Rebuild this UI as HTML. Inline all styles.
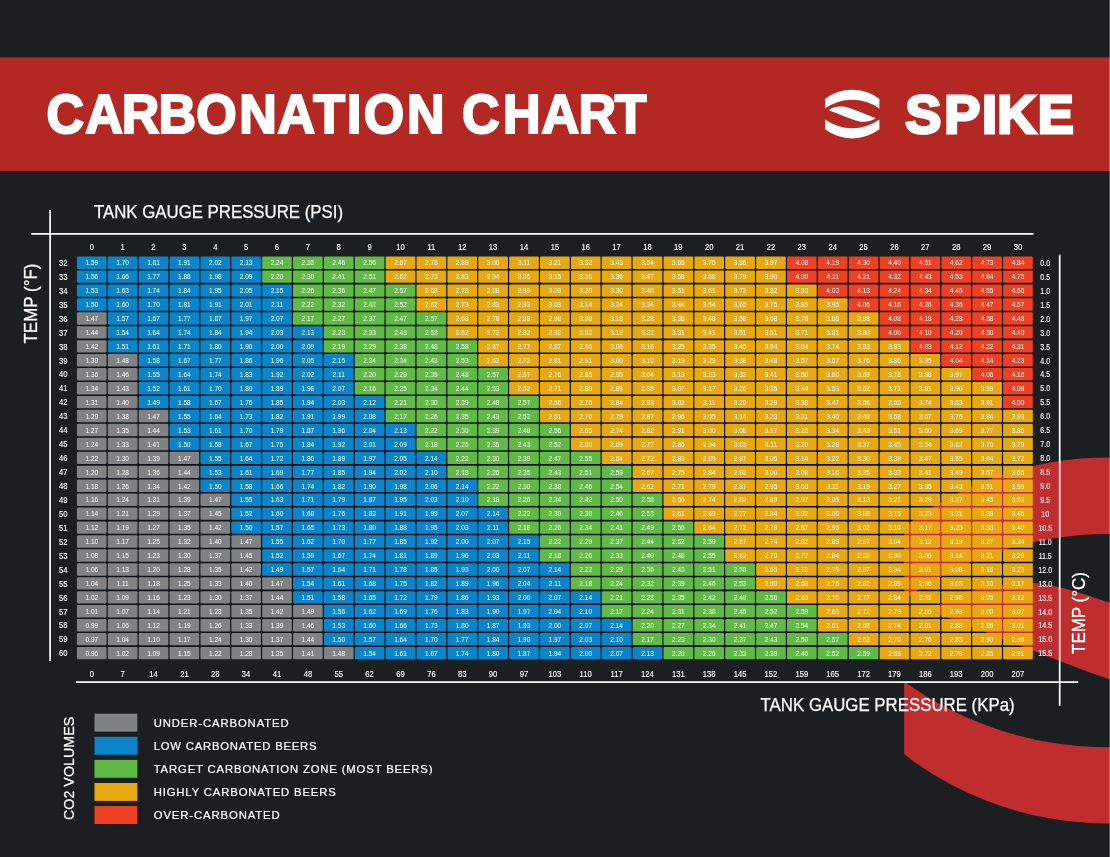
<!DOCTYPE html>
<html lang="en"><head><meta charset="utf-8"><title>Carbonation Chart</title>
<style>
html,body{margin:0;padding:0;background:#1c1f22;}
body{width:1110px;height:857px;overflow:hidden;position:relative;font-family:"Liberation Sans",sans-serif;}
svg{position:absolute;left:0;top:0;display:block}
text{font-family:"Liberation Sans",sans-serif;fill:#fff}
.c{font-size:7.6px;text-anchor:middle}
.h{font-size:8.8px;text-anchor:middle;stroke:#fff;stroke-width:.12px}
.ax{font-size:19px;stroke:#fff;stroke-width:.25px}
.lg{font-size:11.3px;stroke:#fff;stroke-width:.2px}
</style></head><body>
<svg width="1110" height="857" viewBox="0 0 1110 857">
<rect width="1110" height="857" fill="#1c1f22"/>

<rect x="77.2" y="256.8" width="955.31" height="402.20" fill="#0d1317"/>
<g id="biglogo" fill="#bf2d2e" transform="translate(904.1,458.7) scale(7.5)"><use href="#logo"/></g>
<defs><g id="logo"><path d="M0 9.08A44.7 44.7 0 0 1 54.4 9.08V18.79A46.6 46.6 0 0 0 0 18.79Z"/><path d="M0 29.71A46.6 46.6 0 0 0 54.4 29.71V39.42A44.7 44.7 0 0 1 0 39.42Z"/><path d="M3.8 20.4C5.29 18.57 9.76 16.58 17.2 16.58C22.84 16.58 42.08 25.03 50.6 28.1C49.11 29.93 44.64 31.92 37.2 31.92C31.56 31.92 12.32 23.47 3.8 20.4Z"/></g></defs>
<rect x="0" y="57.4" width="1110" height="113.7" fill="#b42824"/>
<text transform="scale(0.94,1)" x="49.4 90.7 129.6 168.7 208.9 254.5 295.3 333.2 369.2 387.1 433.0 471.7 491.5 535.2 576.2 615.4 654.1" y="133.4" font-size="55.3px" font-weight="700" stroke="#fff" stroke-width="2.2" stroke-linejoin="miter">CARBONATION CHART</text>
<g fill="#fff" transform="translate(825,89.8)"><use href="#logo"/></g>
<text transform="scale(0.99,1)" x="914.3 953.7 991.9 1007.4 1048.2" y="133" font-size="54.5px" font-weight="700" stroke="#fff" stroke-width="3" stroke-linejoin="miter">SPIKE</text>
<g stroke="#fff" stroke-width="1.7" fill="none">
<path d="M50.1 210V661.1"/><path d="M31.3 233.8H1033.5"/><path d="M75.9 682.2H1078.2"/><path d="M1059.7 254.8V705.8"/>
</g>
<text class="ax" x="94" y="218.2" textLength="249" lengthAdjust="spacingAndGlyphs">TANK GAUGE PRESSURE (PSI)</text>
<text class="ax" x="760.6" y="710.6" textLength="254" lengthAdjust="spacingAndGlyphs">TANK GAUGE PRESSURE (KPa)</text>
<text class="ax" transform="translate(36.6,343.5) rotate(-90)" textLength="80" lengthAdjust="spacingAndGlyphs">TEMP (°F)</text>
<text class="ax" transform="translate(1085.4,654) rotate(-90)" textLength="82" lengthAdjust="spacingAndGlyphs">TEMP (°C)</text>
<text transform="translate(73.8,820) rotate(-90)" font-size="15.4px" stroke="#fff" stroke-width=".2" textLength="103.3" lengthAdjust="spacingAndGlyphs">CO2 VOLUMES</text>
<rect x="94.5" y="713.7" width="42.8" height="17.9" fill="#808284"/>
<text class="lg" x="153.7" y="726.7" textLength="134.9" lengthAdjust="spacing">UNDER-CARBONATED</text>
<rect x="94.5" y="736.8" width="42.8" height="17.9" fill="#0a85c9"/>
<text class="lg" x="153.7" y="749.8" textLength="162.9" lengthAdjust="spacing">LOW CARBONATED BEERS</text>
<rect x="94.5" y="759.9" width="42.8" height="17.9" fill="#62ba46"/>
<text class="lg" x="153.7" y="772.9" textLength="278.8" lengthAdjust="spacing">TARGET CARBONATION ZONE (MOST BEERS)</text>
<rect x="94.5" y="783.0" width="42.8" height="17.9" fill="#e8a812"/>
<text class="lg" x="153.7" y="796.0" textLength="182.1" lengthAdjust="spacing">HIGHLY CARBONATED BEERS</text>
<rect x="94.5" y="806.1" width="42.8" height="17.9" fill="#ee4124"/>
<text class="lg" x="153.7" y="819.1" textLength="126" lengthAdjust="spacing">OVER-CARBONATED</text>
<text class="h" transform="translate(91.8,249.9) scale(.87,1)">0</text>
<text class="h" transform="translate(91.8,676.5) scale(.87,1)">0</text>
<text class="h" transform="translate(122.6,249.9) scale(.87,1)">1</text>
<text class="h" transform="translate(122.6,676.5) scale(.87,1)">7</text>
<text class="h" transform="translate(153.5,249.9) scale(.87,1)">2</text>
<text class="h" transform="translate(153.5,676.5) scale(.87,1)">14</text>
<text class="h" transform="translate(184.4,249.9) scale(.87,1)">3</text>
<text class="h" transform="translate(184.4,676.5) scale(.87,1)">21</text>
<text class="h" transform="translate(215.3,249.9) scale(.87,1)">4</text>
<text class="h" transform="translate(215.3,676.5) scale(.87,1)">28</text>
<text class="h" transform="translate(246.1,249.9) scale(.87,1)">5</text>
<text class="h" transform="translate(246.1,676.5) scale(.87,1)">34</text>
<text class="h" transform="translate(277.0,249.9) scale(.87,1)">6</text>
<text class="h" transform="translate(277.0,676.5) scale(.87,1)">41</text>
<text class="h" transform="translate(307.9,249.9) scale(.87,1)">7</text>
<text class="h" transform="translate(307.9,676.5) scale(.87,1)">48</text>
<text class="h" transform="translate(338.7,249.9) scale(.87,1)">8</text>
<text class="h" transform="translate(338.7,676.5) scale(.87,1)">55</text>
<text class="h" transform="translate(369.6,249.9) scale(.87,1)">9</text>
<text class="h" transform="translate(369.6,676.5) scale(.87,1)">62</text>
<text class="h" transform="translate(400.5,249.9) scale(.87,1)">10</text>
<text class="h" transform="translate(400.5,676.5) scale(.87,1)">69</text>
<text class="h" transform="translate(431.4,249.9) scale(.87,1)">11</text>
<text class="h" transform="translate(431.4,676.5) scale(.87,1)">76</text>
<text class="h" transform="translate(462.2,249.9) scale(.87,1)">12</text>
<text class="h" transform="translate(462.2,676.5) scale(.87,1)">83</text>
<text class="h" transform="translate(493.1,249.9) scale(.87,1)">13</text>
<text class="h" transform="translate(493.1,676.5) scale(.87,1)">90</text>
<text class="h" transform="translate(524.0,249.9) scale(.87,1)">14</text>
<text class="h" transform="translate(524.0,676.5) scale(.87,1)">97</text>
<text class="h" transform="translate(554.9,249.9) scale(.87,1)">15</text>
<text class="h" transform="translate(554.9,676.5) scale(.87,1)">103</text>
<text class="h" transform="translate(585.7,249.9) scale(.87,1)">16</text>
<text class="h" transform="translate(585.7,676.5) scale(.87,1)">110</text>
<text class="h" transform="translate(616.6,249.9) scale(.87,1)">17</text>
<text class="h" transform="translate(616.6,676.5) scale(.87,1)">117</text>
<text class="h" transform="translate(647.5,249.9) scale(.87,1)">18</text>
<text class="h" transform="translate(647.5,676.5) scale(.87,1)">124</text>
<text class="h" transform="translate(678.3,249.9) scale(.87,1)">19</text>
<text class="h" transform="translate(678.3,676.5) scale(.87,1)">131</text>
<text class="h" transform="translate(709.2,249.9) scale(.87,1)">20</text>
<text class="h" transform="translate(709.2,676.5) scale(.87,1)">138</text>
<text class="h" transform="translate(740.1,249.9) scale(.87,1)">21</text>
<text class="h" transform="translate(740.1,676.5) scale(.87,1)">145</text>
<text class="h" transform="translate(771.0,249.9) scale(.87,1)">22</text>
<text class="h" transform="translate(771.0,676.5) scale(.87,1)">152</text>
<text class="h" transform="translate(801.8,249.9) scale(.87,1)">23</text>
<text class="h" transform="translate(801.8,676.5) scale(.87,1)">159</text>
<text class="h" transform="translate(832.7,249.9) scale(.87,1)">24</text>
<text class="h" transform="translate(832.7,676.5) scale(.87,1)">165</text>
<text class="h" transform="translate(863.6,249.9) scale(.87,1)">25</text>
<text class="h" transform="translate(863.6,676.5) scale(.87,1)">172</text>
<text class="h" transform="translate(894.5,249.9) scale(.87,1)">26</text>
<text class="h" transform="translate(894.5,676.5) scale(.87,1)">179</text>
<text class="h" transform="translate(925.3,249.9) scale(.87,1)">27</text>
<text class="h" transform="translate(925.3,676.5) scale(.87,1)">186</text>
<text class="h" transform="translate(956.2,249.9) scale(.87,1)">28</text>
<text class="h" transform="translate(956.2,676.5) scale(.87,1)">193</text>
<text class="h" transform="translate(987.1,249.9) scale(.87,1)">29</text>
<text class="h" transform="translate(987.1,676.5) scale(.87,1)">200</text>
<text class="h" transform="translate(1018.0,249.9) scale(.87,1)">30</text>
<text class="h" transform="translate(1018.0,676.5) scale(.87,1)">207</text>
<text class="h" transform="translate(63.3,265.9) scale(.87,1)">32</text>
<text class="h" transform="translate(1045.2,265.9) scale(.8,1)">0.0</text>
<rect x="76.90" y="256.50" width="29.72" height="12.4" rx="1" fill="#0a85c9"/><rect x="107.77" y="256.50" width="29.72" height="12.4" rx="1" fill="#0a85c9"/><rect x="138.65" y="256.50" width="29.72" height="12.4" rx="1" fill="#0a85c9"/><rect x="169.52" y="256.50" width="29.72" height="12.4" rx="1" fill="#0a85c9"/><rect x="200.39" y="256.50" width="29.72" height="12.4" rx="1" fill="#0a85c9"/><rect x="231.27" y="256.50" width="29.72" height="12.4" rx="1" fill="#0a85c9"/><rect x="262.14" y="256.50" width="29.72" height="12.4" rx="1" fill="#62ba46"/><rect x="293.01" y="256.50" width="29.72" height="12.4" rx="1" fill="#62ba46"/><rect x="323.88" y="256.50" width="29.72" height="12.4" rx="1" fill="#62ba46"/><rect x="354.76" y="256.50" width="29.72" height="12.4" rx="1" fill="#62ba46"/><rect x="385.63" y="256.50" width="29.72" height="12.4" rx="1" fill="#e8a812"/><rect x="416.50" y="256.50" width="29.72" height="12.4" rx="1" fill="#e8a812"/><rect x="447.38" y="256.50" width="29.72" height="12.4" rx="1" fill="#e8a812"/><rect x="478.25" y="256.50" width="29.72" height="12.4" rx="1" fill="#e8a812"/><rect x="509.12" y="256.50" width="29.72" height="12.4" rx="1" fill="#e8a812"/><rect x="540.00" y="256.50" width="29.72" height="12.4" rx="1" fill="#e8a812"/><rect x="570.87" y="256.50" width="29.72" height="12.4" rx="1" fill="#e8a812"/><rect x="601.74" y="256.50" width="29.72" height="12.4" rx="1" fill="#e8a812"/><rect x="632.61" y="256.50" width="29.72" height="12.4" rx="1" fill="#e8a812"/><rect x="663.49" y="256.50" width="29.72" height="12.4" rx="1" fill="#e8a812"/><rect x="694.36" y="256.50" width="29.72" height="12.4" rx="1" fill="#e8a812"/><rect x="725.23" y="256.50" width="29.72" height="12.4" rx="1" fill="#e8a812"/><rect x="756.11" y="256.50" width="29.72" height="12.4" rx="1" fill="#e8a812"/><rect x="786.98" y="256.50" width="29.72" height="12.4" rx="1" fill="#ee4124"/><rect x="817.85" y="256.50" width="29.72" height="12.4" rx="1" fill="#ee4124"/><rect x="848.73" y="256.50" width="29.72" height="12.4" rx="1" fill="#ee4124"/><rect x="879.60" y="256.50" width="29.72" height="12.4" rx="1" fill="#ee4124"/><rect x="910.47" y="256.50" width="29.72" height="12.4" rx="1" fill="#ee4124"/><rect x="941.34" y="256.50" width="29.72" height="12.4" rx="1" fill="#ee4124"/><rect x="972.22" y="256.50" width="29.72" height="12.4" rx="1" fill="#ee4124"/><rect x="1003.09" y="256.50" width="29.72" height="12.4" rx="1" fill="#ee4124"/>
<text class="c" transform="translate(91.8,265.4) scale(.86,1)">1.59</text><text class="c" transform="translate(122.6,265.4) scale(.86,1)">1.70</text><text class="c" transform="translate(153.5,265.4) scale(.86,1)">1.81</text><text class="c" transform="translate(184.4,265.4) scale(.86,1)">1.91</text><text class="c" transform="translate(215.3,265.4) scale(.86,1)">2.02</text><text class="c" transform="translate(246.1,265.4) scale(.86,1)">2.13</text><text class="c" transform="translate(277.0,265.4) scale(.86,1)">2.24</text><text class="c" transform="translate(307.9,265.4) scale(.86,1)">2.35</text><text class="c" transform="translate(338.7,265.4) scale(.86,1)">2.46</text><text class="c" transform="translate(369.6,265.4) scale(.86,1)">2.56</text><text class="c" transform="translate(400.5,265.4) scale(.86,1)">2.67</text><text class="c" transform="translate(431.4,265.4) scale(.86,1)">2.78</text><text class="c" transform="translate(462.2,265.4) scale(.86,1)">2.89</text><text class="c" transform="translate(493.1,265.4) scale(.86,1)">3.00</text><text class="c" transform="translate(524.0,265.4) scale(.86,1)">3.11</text><text class="c" transform="translate(554.9,265.4) scale(.86,1)">3.21</text><text class="c" transform="translate(585.7,265.4) scale(.86,1)">3.32</text><text class="c" transform="translate(616.6,265.4) scale(.86,1)">3.43</text><text class="c" transform="translate(647.5,265.4) scale(.86,1)">3.54</text><text class="c" transform="translate(678.3,265.4) scale(.86,1)">3.65</text><text class="c" transform="translate(709.2,265.4) scale(.86,1)">3.75</text><text class="c" transform="translate(740.1,265.4) scale(.86,1)">3.86</text><text class="c" transform="translate(771.0,265.4) scale(.86,1)">3.97</text><text class="c" transform="translate(801.8,265.4) scale(.86,1)">4.08</text><text class="c" transform="translate(832.7,265.4) scale(.86,1)">4.19</text><text class="c" transform="translate(863.6,265.4) scale(.86,1)">4.30</text><text class="c" transform="translate(894.5,265.4) scale(.86,1)">4.40</text><text class="c" transform="translate(925.3,265.4) scale(.86,1)">4.51</text><text class="c" transform="translate(956.2,265.4) scale(.86,1)">4.62</text><text class="c" transform="translate(987.1,265.4) scale(.86,1)">4.73</text><text class="c" transform="translate(1018.0,265.4) scale(.86,1)">4.84</text>
<text class="h" transform="translate(63.3,279.8) scale(.87,1)">33</text>
<text class="h" transform="translate(1045.2,279.8) scale(.8,1)">0.5</text>
<rect x="76.90" y="270.44" width="29.72" height="12.4" rx="1" fill="#0a85c9"/><rect x="107.77" y="270.44" width="29.72" height="12.4" rx="1" fill="#0a85c9"/><rect x="138.65" y="270.44" width="29.72" height="12.4" rx="1" fill="#0a85c9"/><rect x="169.52" y="270.44" width="29.72" height="12.4" rx="1" fill="#0a85c9"/><rect x="200.39" y="270.44" width="29.72" height="12.4" rx="1" fill="#0a85c9"/><rect x="231.27" y="270.44" width="29.72" height="12.4" rx="1" fill="#0a85c9"/><rect x="262.14" y="270.44" width="29.72" height="12.4" rx="1" fill="#62ba46"/><rect x="293.01" y="270.44" width="29.72" height="12.4" rx="1" fill="#62ba46"/><rect x="323.88" y="270.44" width="29.72" height="12.4" rx="1" fill="#62ba46"/><rect x="354.76" y="270.44" width="29.72" height="12.4" rx="1" fill="#62ba46"/><rect x="385.63" y="270.44" width="29.72" height="12.4" rx="1" fill="#e8a812"/><rect x="416.50" y="270.44" width="29.72" height="12.4" rx="1" fill="#e8a812"/><rect x="447.38" y="270.44" width="29.72" height="12.4" rx="1" fill="#e8a812"/><rect x="478.25" y="270.44" width="29.72" height="12.4" rx="1" fill="#e8a812"/><rect x="509.12" y="270.44" width="29.72" height="12.4" rx="1" fill="#e8a812"/><rect x="540.00" y="270.44" width="29.72" height="12.4" rx="1" fill="#e8a812"/><rect x="570.87" y="270.44" width="29.72" height="12.4" rx="1" fill="#e8a812"/><rect x="601.74" y="270.44" width="29.72" height="12.4" rx="1" fill="#e8a812"/><rect x="632.61" y="270.44" width="29.72" height="12.4" rx="1" fill="#e8a812"/><rect x="663.49" y="270.44" width="29.72" height="12.4" rx="1" fill="#e8a812"/><rect x="694.36" y="270.44" width="29.72" height="12.4" rx="1" fill="#e8a812"/><rect x="725.23" y="270.44" width="29.72" height="12.4" rx="1" fill="#e8a812"/><rect x="756.11" y="270.44" width="29.72" height="12.4" rx="1" fill="#e8a812"/><rect x="786.98" y="270.44" width="29.72" height="12.4" rx="1" fill="#ee4124"/><rect x="817.85" y="270.44" width="29.72" height="12.4" rx="1" fill="#ee4124"/><rect x="848.73" y="270.44" width="29.72" height="12.4" rx="1" fill="#ee4124"/><rect x="879.60" y="270.44" width="29.72" height="12.4" rx="1" fill="#ee4124"/><rect x="910.47" y="270.44" width="29.72" height="12.4" rx="1" fill="#ee4124"/><rect x="941.34" y="270.44" width="29.72" height="12.4" rx="1" fill="#ee4124"/><rect x="972.22" y="270.44" width="29.72" height="12.4" rx="1" fill="#ee4124"/><rect x="1003.09" y="270.44" width="29.72" height="12.4" rx="1" fill="#ee4124"/>
<text class="c" transform="translate(91.8,279.3) scale(.86,1)">1.56</text><text class="c" transform="translate(122.6,279.3) scale(.86,1)">1.66</text><text class="c" transform="translate(153.5,279.3) scale(.86,1)">1.77</text><text class="c" transform="translate(184.4,279.3) scale(.86,1)">1.88</text><text class="c" transform="translate(215.3,279.3) scale(.86,1)">1.98</text><text class="c" transform="translate(246.1,279.3) scale(.86,1)">2.09</text><text class="c" transform="translate(277.0,279.3) scale(.86,1)">2.20</text><text class="c" transform="translate(307.9,279.3) scale(.86,1)">2.30</text><text class="c" transform="translate(338.7,279.3) scale(.86,1)">2.41</text><text class="c" transform="translate(369.6,279.3) scale(.86,1)">2.51</text><text class="c" transform="translate(400.5,279.3) scale(.86,1)">2.62</text><text class="c" transform="translate(431.4,279.3) scale(.86,1)">2.73</text><text class="c" transform="translate(462.2,279.3) scale(.86,1)">2.83</text><text class="c" transform="translate(493.1,279.3) scale(.86,1)">2.94</text><text class="c" transform="translate(524.0,279.3) scale(.86,1)">3.05</text><text class="c" transform="translate(554.9,279.3) scale(.86,1)">3.15</text><text class="c" transform="translate(585.7,279.3) scale(.86,1)">3.26</text><text class="c" transform="translate(616.6,279.3) scale(.86,1)">3.36</text><text class="c" transform="translate(647.5,279.3) scale(.86,1)">3.47</text><text class="c" transform="translate(678.3,279.3) scale(.86,1)">3.58</text><text class="c" transform="translate(709.2,279.3) scale(.86,1)">3.68</text><text class="c" transform="translate(740.1,279.3) scale(.86,1)">3.79</text><text class="c" transform="translate(771.0,279.3) scale(.86,1)">3.90</text><text class="c" transform="translate(801.8,279.3) scale(.86,1)">4.00</text><text class="c" transform="translate(832.7,279.3) scale(.86,1)">4.11</text><text class="c" transform="translate(863.6,279.3) scale(.86,1)">4.21</text><text class="c" transform="translate(894.5,279.3) scale(.86,1)">4.32</text><text class="c" transform="translate(925.3,279.3) scale(.86,1)">4.43</text><text class="c" transform="translate(956.2,279.3) scale(.86,1)">4.53</text><text class="c" transform="translate(987.1,279.3) scale(.86,1)">4.64</text><text class="c" transform="translate(1018.0,279.3) scale(.86,1)">4.75</text>
<text class="h" transform="translate(63.3,293.8) scale(.87,1)">34</text>
<text class="h" transform="translate(1045.2,293.8) scale(.8,1)">1.0</text>
<rect x="76.90" y="284.39" width="29.72" height="12.4" rx="1" fill="#0a85c9"/><rect x="107.77" y="284.39" width="29.72" height="12.4" rx="1" fill="#0a85c9"/><rect x="138.65" y="284.39" width="29.72" height="12.4" rx="1" fill="#0a85c9"/><rect x="169.52" y="284.39" width="29.72" height="12.4" rx="1" fill="#0a85c9"/><rect x="200.39" y="284.39" width="29.72" height="12.4" rx="1" fill="#0a85c9"/><rect x="231.27" y="284.39" width="29.72" height="12.4" rx="1" fill="#0a85c9"/><rect x="262.14" y="284.39" width="29.72" height="12.4" rx="1" fill="#0a85c9"/><rect x="293.01" y="284.39" width="29.72" height="12.4" rx="1" fill="#62ba46"/><rect x="323.88" y="284.39" width="29.72" height="12.4" rx="1" fill="#62ba46"/><rect x="354.76" y="284.39" width="29.72" height="12.4" rx="1" fill="#62ba46"/><rect x="385.63" y="284.39" width="29.72" height="12.4" rx="1" fill="#62ba46"/><rect x="416.50" y="284.39" width="29.72" height="12.4" rx="1" fill="#e8a812"/><rect x="447.38" y="284.39" width="29.72" height="12.4" rx="1" fill="#e8a812"/><rect x="478.25" y="284.39" width="29.72" height="12.4" rx="1" fill="#e8a812"/><rect x="509.12" y="284.39" width="29.72" height="12.4" rx="1" fill="#e8a812"/><rect x="540.00" y="284.39" width="29.72" height="12.4" rx="1" fill="#e8a812"/><rect x="570.87" y="284.39" width="29.72" height="12.4" rx="1" fill="#e8a812"/><rect x="601.74" y="284.39" width="29.72" height="12.4" rx="1" fill="#e8a812"/><rect x="632.61" y="284.39" width="29.72" height="12.4" rx="1" fill="#e8a812"/><rect x="663.49" y="284.39" width="29.72" height="12.4" rx="1" fill="#e8a812"/><rect x="694.36" y="284.39" width="29.72" height="12.4" rx="1" fill="#e8a812"/><rect x="725.23" y="284.39" width="29.72" height="12.4" rx="1" fill="#e8a812"/><rect x="756.11" y="284.39" width="29.72" height="12.4" rx="1" fill="#e8a812"/><rect x="786.98" y="284.39" width="29.72" height="12.4" rx="1" fill="#e8a812"/><rect x="817.85" y="284.39" width="29.72" height="12.4" rx="1" fill="#ee4124"/><rect x="848.73" y="284.39" width="29.72" height="12.4" rx="1" fill="#ee4124"/><rect x="879.60" y="284.39" width="29.72" height="12.4" rx="1" fill="#ee4124"/><rect x="910.47" y="284.39" width="29.72" height="12.4" rx="1" fill="#ee4124"/><rect x="941.34" y="284.39" width="29.72" height="12.4" rx="1" fill="#ee4124"/><rect x="972.22" y="284.39" width="29.72" height="12.4" rx="1" fill="#ee4124"/><rect x="1003.09" y="284.39" width="29.72" height="12.4" rx="1" fill="#ee4124"/>
<text class="c" transform="translate(91.8,293.3) scale(.86,1)">1.53</text><text class="c" transform="translate(122.6,293.3) scale(.86,1)">1.63</text><text class="c" transform="translate(153.5,293.3) scale(.86,1)">1.74</text><text class="c" transform="translate(184.4,293.3) scale(.86,1)">1.84</text><text class="c" transform="translate(215.3,293.3) scale(.86,1)">1.95</text><text class="c" transform="translate(246.1,293.3) scale(.86,1)">2.05</text><text class="c" transform="translate(277.0,293.3) scale(.86,1)">2.15</text><text class="c" transform="translate(307.9,293.3) scale(.86,1)">2.26</text><text class="c" transform="translate(338.7,293.3) scale(.86,1)">2.36</text><text class="c" transform="translate(369.6,293.3) scale(.86,1)">2.47</text><text class="c" transform="translate(400.5,293.3) scale(.86,1)">2.57</text><text class="c" transform="translate(431.4,293.3) scale(.86,1)">2.68</text><text class="c" transform="translate(462.2,293.3) scale(.86,1)">2.78</text><text class="c" transform="translate(493.1,293.3) scale(.86,1)">2.88</text><text class="c" transform="translate(524.0,293.3) scale(.86,1)">2.99</text><text class="c" transform="translate(554.9,293.3) scale(.86,1)">3.09</text><text class="c" transform="translate(585.7,293.3) scale(.86,1)">3.20</text><text class="c" transform="translate(616.6,293.3) scale(.86,1)">3.30</text><text class="c" transform="translate(647.5,293.3) scale(.86,1)">3.40</text><text class="c" transform="translate(678.3,293.3) scale(.86,1)">3.51</text><text class="c" transform="translate(709.2,293.3) scale(.86,1)">3.61</text><text class="c" transform="translate(740.1,293.3) scale(.86,1)">3.72</text><text class="c" transform="translate(771.0,293.3) scale(.86,1)">3.82</text><text class="c" transform="translate(801.8,293.3) scale(.86,1)">3.93</text><text class="c" transform="translate(832.7,293.3) scale(.86,1)">4.03</text><text class="c" transform="translate(863.6,293.3) scale(.86,1)">4.13</text><text class="c" transform="translate(894.5,293.3) scale(.86,1)">4.24</text><text class="c" transform="translate(925.3,293.3) scale(.86,1)">4.34</text><text class="c" transform="translate(956.2,293.3) scale(.86,1)">4.45</text><text class="c" transform="translate(987.1,293.3) scale(.86,1)">4.55</text><text class="c" transform="translate(1018.0,293.3) scale(.86,1)">4.66</text>
<text class="h" transform="translate(63.3,307.7) scale(.87,1)">35</text>
<text class="h" transform="translate(1045.2,307.7) scale(.8,1)">1.5</text>
<rect x="76.90" y="298.33" width="29.72" height="12.4" rx="1" fill="#0a85c9"/><rect x="107.77" y="298.33" width="29.72" height="12.4" rx="1" fill="#0a85c9"/><rect x="138.65" y="298.33" width="29.72" height="12.4" rx="1" fill="#0a85c9"/><rect x="169.52" y="298.33" width="29.72" height="12.4" rx="1" fill="#0a85c9"/><rect x="200.39" y="298.33" width="29.72" height="12.4" rx="1" fill="#0a85c9"/><rect x="231.27" y="298.33" width="29.72" height="12.4" rx="1" fill="#0a85c9"/><rect x="262.14" y="298.33" width="29.72" height="12.4" rx="1" fill="#0a85c9"/><rect x="293.01" y="298.33" width="29.72" height="12.4" rx="1" fill="#62ba46"/><rect x="323.88" y="298.33" width="29.72" height="12.4" rx="1" fill="#62ba46"/><rect x="354.76" y="298.33" width="29.72" height="12.4" rx="1" fill="#62ba46"/><rect x="385.63" y="298.33" width="29.72" height="12.4" rx="1" fill="#62ba46"/><rect x="416.50" y="298.33" width="29.72" height="12.4" rx="1" fill="#e8a812"/><rect x="447.38" y="298.33" width="29.72" height="12.4" rx="1" fill="#e8a812"/><rect x="478.25" y="298.33" width="29.72" height="12.4" rx="1" fill="#e8a812"/><rect x="509.12" y="298.33" width="29.72" height="12.4" rx="1" fill="#e8a812"/><rect x="540.00" y="298.33" width="29.72" height="12.4" rx="1" fill="#e8a812"/><rect x="570.87" y="298.33" width="29.72" height="12.4" rx="1" fill="#e8a812"/><rect x="601.74" y="298.33" width="29.72" height="12.4" rx="1" fill="#e8a812"/><rect x="632.61" y="298.33" width="29.72" height="12.4" rx="1" fill="#e8a812"/><rect x="663.49" y="298.33" width="29.72" height="12.4" rx="1" fill="#e8a812"/><rect x="694.36" y="298.33" width="29.72" height="12.4" rx="1" fill="#e8a812"/><rect x="725.23" y="298.33" width="29.72" height="12.4" rx="1" fill="#e8a812"/><rect x="756.11" y="298.33" width="29.72" height="12.4" rx="1" fill="#e8a812"/><rect x="786.98" y="298.33" width="29.72" height="12.4" rx="1" fill="#e8a812"/><rect x="817.85" y="298.33" width="29.72" height="12.4" rx="1" fill="#e8a812"/><rect x="848.73" y="298.33" width="29.72" height="12.4" rx="1" fill="#ee4124"/><rect x="879.60" y="298.33" width="29.72" height="12.4" rx="1" fill="#ee4124"/><rect x="910.47" y="298.33" width="29.72" height="12.4" rx="1" fill="#ee4124"/><rect x="941.34" y="298.33" width="29.72" height="12.4" rx="1" fill="#ee4124"/><rect x="972.22" y="298.33" width="29.72" height="12.4" rx="1" fill="#ee4124"/><rect x="1003.09" y="298.33" width="29.72" height="12.4" rx="1" fill="#ee4124"/>
<text class="c" transform="translate(91.8,307.2) scale(.86,1)">1.50</text><text class="c" transform="translate(122.6,307.2) scale(.86,1)">1.60</text><text class="c" transform="translate(153.5,307.2) scale(.86,1)">1.70</text><text class="c" transform="translate(184.4,307.2) scale(.86,1)">1.81</text><text class="c" transform="translate(215.3,307.2) scale(.86,1)">1.91</text><text class="c" transform="translate(246.1,307.2) scale(.86,1)">2.01</text><text class="c" transform="translate(277.0,307.2) scale(.86,1)">2.11</text><text class="c" transform="translate(307.9,307.2) scale(.86,1)">2.22</text><text class="c" transform="translate(338.7,307.2) scale(.86,1)">2.32</text><text class="c" transform="translate(369.6,307.2) scale(.86,1)">2.42</text><text class="c" transform="translate(400.5,307.2) scale(.86,1)">2.52</text><text class="c" transform="translate(431.4,307.2) scale(.86,1)">2.62</text><text class="c" transform="translate(462.2,307.2) scale(.86,1)">2.73</text><text class="c" transform="translate(493.1,307.2) scale(.86,1)">2.83</text><text class="c" transform="translate(524.0,307.2) scale(.86,1)">2.93</text><text class="c" transform="translate(554.9,307.2) scale(.86,1)">3.03</text><text class="c" transform="translate(585.7,307.2) scale(.86,1)">3.14</text><text class="c" transform="translate(616.6,307.2) scale(.86,1)">3.24</text><text class="c" transform="translate(647.5,307.2) scale(.86,1)">3.34</text><text class="c" transform="translate(678.3,307.2) scale(.86,1)">3.44</text><text class="c" transform="translate(709.2,307.2) scale(.86,1)">3.54</text><text class="c" transform="translate(740.1,307.2) scale(.86,1)">3.65</text><text class="c" transform="translate(771.0,307.2) scale(.86,1)">3.75</text><text class="c" transform="translate(801.8,307.2) scale(.86,1)">3.85</text><text class="c" transform="translate(832.7,307.2) scale(.86,1)">3.95</text><text class="c" transform="translate(863.6,307.2) scale(.86,1)">4.06</text><text class="c" transform="translate(894.5,307.2) scale(.86,1)">4.16</text><text class="c" transform="translate(925.3,307.2) scale(.86,1)">4.26</text><text class="c" transform="translate(956.2,307.2) scale(.86,1)">4.36</text><text class="c" transform="translate(987.1,307.2) scale(.86,1)">4.47</text><text class="c" transform="translate(1018.0,307.2) scale(.86,1)">4.57</text>
<text class="h" transform="translate(63.3,321.7) scale(.87,1)">36</text>
<text class="h" transform="translate(1045.2,321.7) scale(.8,1)">2.0</text>
<rect x="76.90" y="312.27" width="29.72" height="12.4" rx="1" fill="#808284"/><rect x="107.77" y="312.27" width="29.72" height="12.4" rx="1" fill="#0a85c9"/><rect x="138.65" y="312.27" width="29.72" height="12.4" rx="1" fill="#0a85c9"/><rect x="169.52" y="312.27" width="29.72" height="12.4" rx="1" fill="#0a85c9"/><rect x="200.39" y="312.27" width="29.72" height="12.4" rx="1" fill="#0a85c9"/><rect x="231.27" y="312.27" width="29.72" height="12.4" rx="1" fill="#0a85c9"/><rect x="262.14" y="312.27" width="29.72" height="12.4" rx="1" fill="#0a85c9"/><rect x="293.01" y="312.27" width="29.72" height="12.4" rx="1" fill="#62ba46"/><rect x="323.88" y="312.27" width="29.72" height="12.4" rx="1" fill="#62ba46"/><rect x="354.76" y="312.27" width="29.72" height="12.4" rx="1" fill="#62ba46"/><rect x="385.63" y="312.27" width="29.72" height="12.4" rx="1" fill="#62ba46"/><rect x="416.50" y="312.27" width="29.72" height="12.4" rx="1" fill="#62ba46"/><rect x="447.38" y="312.27" width="29.72" height="12.4" rx="1" fill="#e8a812"/><rect x="478.25" y="312.27" width="29.72" height="12.4" rx="1" fill="#e8a812"/><rect x="509.12" y="312.27" width="29.72" height="12.4" rx="1" fill="#e8a812"/><rect x="540.00" y="312.27" width="29.72" height="12.4" rx="1" fill="#e8a812"/><rect x="570.87" y="312.27" width="29.72" height="12.4" rx="1" fill="#e8a812"/><rect x="601.74" y="312.27" width="29.72" height="12.4" rx="1" fill="#e8a812"/><rect x="632.61" y="312.27" width="29.72" height="12.4" rx="1" fill="#e8a812"/><rect x="663.49" y="312.27" width="29.72" height="12.4" rx="1" fill="#e8a812"/><rect x="694.36" y="312.27" width="29.72" height="12.4" rx="1" fill="#e8a812"/><rect x="725.23" y="312.27" width="29.72" height="12.4" rx="1" fill="#e8a812"/><rect x="756.11" y="312.27" width="29.72" height="12.4" rx="1" fill="#e8a812"/><rect x="786.98" y="312.27" width="29.72" height="12.4" rx="1" fill="#e8a812"/><rect x="817.85" y="312.27" width="29.72" height="12.4" rx="1" fill="#e8a812"/><rect x="848.73" y="312.27" width="29.72" height="12.4" rx="1" fill="#e8a812"/><rect x="879.60" y="312.27" width="29.72" height="12.4" rx="1" fill="#ee4124"/><rect x="910.47" y="312.27" width="29.72" height="12.4" rx="1" fill="#ee4124"/><rect x="941.34" y="312.27" width="29.72" height="12.4" rx="1" fill="#ee4124"/><rect x="972.22" y="312.27" width="29.72" height="12.4" rx="1" fill="#ee4124"/><rect x="1003.09" y="312.27" width="29.72" height="12.4" rx="1" fill="#ee4124"/>
<text class="c" transform="translate(91.8,321.2) scale(.86,1)">1.47</text><text class="c" transform="translate(122.6,321.2) scale(.86,1)">1.57</text><text class="c" transform="translate(153.5,321.2) scale(.86,1)">1.67</text><text class="c" transform="translate(184.4,321.2) scale(.86,1)">1.77</text><text class="c" transform="translate(215.3,321.2) scale(.86,1)">1.87</text><text class="c" transform="translate(246.1,321.2) scale(.86,1)">1.97</text><text class="c" transform="translate(277.0,321.2) scale(.86,1)">2.07</text><text class="c" transform="translate(307.9,321.2) scale(.86,1)">2.17</text><text class="c" transform="translate(338.7,321.2) scale(.86,1)">2.27</text><text class="c" transform="translate(369.6,321.2) scale(.86,1)">2.37</text><text class="c" transform="translate(400.5,321.2) scale(.86,1)">2.47</text><text class="c" transform="translate(431.4,321.2) scale(.86,1)">2.57</text><text class="c" transform="translate(462.2,321.2) scale(.86,1)">2.68</text><text class="c" transform="translate(493.1,321.2) scale(.86,1)">2.78</text><text class="c" transform="translate(524.0,321.2) scale(.86,1)">2.88</text><text class="c" transform="translate(554.9,321.2) scale(.86,1)">2.98</text><text class="c" transform="translate(585.7,321.2) scale(.86,1)">3.08</text><text class="c" transform="translate(616.6,321.2) scale(.86,1)">3.18</text><text class="c" transform="translate(647.5,321.2) scale(.86,1)">3.28</text><text class="c" transform="translate(678.3,321.2) scale(.86,1)">3.38</text><text class="c" transform="translate(709.2,321.2) scale(.86,1)">3.48</text><text class="c" transform="translate(740.1,321.2) scale(.86,1)">3.58</text><text class="c" transform="translate(771.0,321.2) scale(.86,1)">3.68</text><text class="c" transform="translate(801.8,321.2) scale(.86,1)">3.78</text><text class="c" transform="translate(832.7,321.2) scale(.86,1)">3.88</text><text class="c" transform="translate(863.6,321.2) scale(.86,1)">3.98</text><text class="c" transform="translate(894.5,321.2) scale(.86,1)">4.08</text><text class="c" transform="translate(925.3,321.2) scale(.86,1)">4.18</text><text class="c" transform="translate(956.2,321.2) scale(.86,1)">4.28</text><text class="c" transform="translate(987.1,321.2) scale(.86,1)">4.38</text><text class="c" transform="translate(1018.0,321.2) scale(.86,1)">4.48</text>
<text class="h" transform="translate(63.3,335.6) scale(.87,1)">37</text>
<text class="h" transform="translate(1045.2,335.6) scale(.8,1)">3.0</text>
<rect x="76.90" y="326.22" width="29.72" height="12.4" rx="1" fill="#808284"/><rect x="107.77" y="326.22" width="29.72" height="12.4" rx="1" fill="#0a85c9"/><rect x="138.65" y="326.22" width="29.72" height="12.4" rx="1" fill="#0a85c9"/><rect x="169.52" y="326.22" width="29.72" height="12.4" rx="1" fill="#0a85c9"/><rect x="200.39" y="326.22" width="29.72" height="12.4" rx="1" fill="#0a85c9"/><rect x="231.27" y="326.22" width="29.72" height="12.4" rx="1" fill="#0a85c9"/><rect x="262.14" y="326.22" width="29.72" height="12.4" rx="1" fill="#0a85c9"/><rect x="293.01" y="326.22" width="29.72" height="12.4" rx="1" fill="#0a85c9"/><rect x="323.88" y="326.22" width="29.72" height="12.4" rx="1" fill="#62ba46"/><rect x="354.76" y="326.22" width="29.72" height="12.4" rx="1" fill="#62ba46"/><rect x="385.63" y="326.22" width="29.72" height="12.4" rx="1" fill="#62ba46"/><rect x="416.50" y="326.22" width="29.72" height="12.4" rx="1" fill="#62ba46"/><rect x="447.38" y="326.22" width="29.72" height="12.4" rx="1" fill="#e8a812"/><rect x="478.25" y="326.22" width="29.72" height="12.4" rx="1" fill="#e8a812"/><rect x="509.12" y="326.22" width="29.72" height="12.4" rx="1" fill="#e8a812"/><rect x="540.00" y="326.22" width="29.72" height="12.4" rx="1" fill="#e8a812"/><rect x="570.87" y="326.22" width="29.72" height="12.4" rx="1" fill="#e8a812"/><rect x="601.74" y="326.22" width="29.72" height="12.4" rx="1" fill="#e8a812"/><rect x="632.61" y="326.22" width="29.72" height="12.4" rx="1" fill="#e8a812"/><rect x="663.49" y="326.22" width="29.72" height="12.4" rx="1" fill="#e8a812"/><rect x="694.36" y="326.22" width="29.72" height="12.4" rx="1" fill="#e8a812"/><rect x="725.23" y="326.22" width="29.72" height="12.4" rx="1" fill="#e8a812"/><rect x="756.11" y="326.22" width="29.72" height="12.4" rx="1" fill="#e8a812"/><rect x="786.98" y="326.22" width="29.72" height="12.4" rx="1" fill="#e8a812"/><rect x="817.85" y="326.22" width="29.72" height="12.4" rx="1" fill="#e8a812"/><rect x="848.73" y="326.22" width="29.72" height="12.4" rx="1" fill="#e8a812"/><rect x="879.60" y="326.22" width="29.72" height="12.4" rx="1" fill="#ee4124"/><rect x="910.47" y="326.22" width="29.72" height="12.4" rx="1" fill="#ee4124"/><rect x="941.34" y="326.22" width="29.72" height="12.4" rx="1" fill="#ee4124"/><rect x="972.22" y="326.22" width="29.72" height="12.4" rx="1" fill="#ee4124"/><rect x="1003.09" y="326.22" width="29.72" height="12.4" rx="1" fill="#ee4124"/>
<text class="c" transform="translate(91.8,335.1) scale(.86,1)">1.44</text><text class="c" transform="translate(122.6,335.1) scale(.86,1)">1.54</text><text class="c" transform="translate(153.5,335.1) scale(.86,1)">1.64</text><text class="c" transform="translate(184.4,335.1) scale(.86,1)">1.74</text><text class="c" transform="translate(215.3,335.1) scale(.86,1)">1.84</text><text class="c" transform="translate(246.1,335.1) scale(.86,1)">1.94</text><text class="c" transform="translate(277.0,335.1) scale(.86,1)">2.03</text><text class="c" transform="translate(307.9,335.1) scale(.86,1)">2.13</text><text class="c" transform="translate(338.7,335.1) scale(.86,1)">2.23</text><text class="c" transform="translate(369.6,335.1) scale(.86,1)">2.33</text><text class="c" transform="translate(400.5,335.1) scale(.86,1)">2.43</text><text class="c" transform="translate(431.4,335.1) scale(.86,1)">2.53</text><text class="c" transform="translate(462.2,335.1) scale(.86,1)">2.62</text><text class="c" transform="translate(493.1,335.1) scale(.86,1)">2.72</text><text class="c" transform="translate(524.0,335.1) scale(.86,1)">2.82</text><text class="c" transform="translate(554.9,335.1) scale(.86,1)">2.92</text><text class="c" transform="translate(585.7,335.1) scale(.86,1)">3.02</text><text class="c" transform="translate(616.6,335.1) scale(.86,1)">3.12</text><text class="c" transform="translate(647.5,335.1) scale(.86,1)">3.22</text><text class="c" transform="translate(678.3,335.1) scale(.86,1)">3.31</text><text class="c" transform="translate(709.2,335.1) scale(.86,1)">3.41</text><text class="c" transform="translate(740.1,335.1) scale(.86,1)">3.51</text><text class="c" transform="translate(771.0,335.1) scale(.86,1)">3.61</text><text class="c" transform="translate(801.8,335.1) scale(.86,1)">3.71</text><text class="c" transform="translate(832.7,335.1) scale(.86,1)">3.81</text><text class="c" transform="translate(863.6,335.1) scale(.86,1)">3.90</text><text class="c" transform="translate(894.5,335.1) scale(.86,1)">4.00</text><text class="c" transform="translate(925.3,335.1) scale(.86,1)">4.10</text><text class="c" transform="translate(956.2,335.1) scale(.86,1)">4.20</text><text class="c" transform="translate(987.1,335.1) scale(.86,1)">4.30</text><text class="c" transform="translate(1018.0,335.1) scale(.86,1)">4.40</text>
<text class="h" transform="translate(63.3,349.6) scale(.87,1)">38</text>
<text class="h" transform="translate(1045.2,349.6) scale(.8,1)">3.5</text>
<rect x="76.90" y="340.16" width="29.72" height="12.4" rx="1" fill="#808284"/><rect x="107.77" y="340.16" width="29.72" height="12.4" rx="1" fill="#0a85c9"/><rect x="138.65" y="340.16" width="29.72" height="12.4" rx="1" fill="#0a85c9"/><rect x="169.52" y="340.16" width="29.72" height="12.4" rx="1" fill="#0a85c9"/><rect x="200.39" y="340.16" width="29.72" height="12.4" rx="1" fill="#0a85c9"/><rect x="231.27" y="340.16" width="29.72" height="12.4" rx="1" fill="#0a85c9"/><rect x="262.14" y="340.16" width="29.72" height="12.4" rx="1" fill="#0a85c9"/><rect x="293.01" y="340.16" width="29.72" height="12.4" rx="1" fill="#0a85c9"/><rect x="323.88" y="340.16" width="29.72" height="12.4" rx="1" fill="#62ba46"/><rect x="354.76" y="340.16" width="29.72" height="12.4" rx="1" fill="#62ba46"/><rect x="385.63" y="340.16" width="29.72" height="12.4" rx="1" fill="#62ba46"/><rect x="416.50" y="340.16" width="29.72" height="12.4" rx="1" fill="#62ba46"/><rect x="447.38" y="340.16" width="29.72" height="12.4" rx="1" fill="#62ba46"/><rect x="478.25" y="340.16" width="29.72" height="12.4" rx="1" fill="#e8a812"/><rect x="509.12" y="340.16" width="29.72" height="12.4" rx="1" fill="#e8a812"/><rect x="540.00" y="340.16" width="29.72" height="12.4" rx="1" fill="#e8a812"/><rect x="570.87" y="340.16" width="29.72" height="12.4" rx="1" fill="#e8a812"/><rect x="601.74" y="340.16" width="29.72" height="12.4" rx="1" fill="#e8a812"/><rect x="632.61" y="340.16" width="29.72" height="12.4" rx="1" fill="#e8a812"/><rect x="663.49" y="340.16" width="29.72" height="12.4" rx="1" fill="#e8a812"/><rect x="694.36" y="340.16" width="29.72" height="12.4" rx="1" fill="#e8a812"/><rect x="725.23" y="340.16" width="29.72" height="12.4" rx="1" fill="#e8a812"/><rect x="756.11" y="340.16" width="29.72" height="12.4" rx="1" fill="#e8a812"/><rect x="786.98" y="340.16" width="29.72" height="12.4" rx="1" fill="#e8a812"/><rect x="817.85" y="340.16" width="29.72" height="12.4" rx="1" fill="#e8a812"/><rect x="848.73" y="340.16" width="29.72" height="12.4" rx="1" fill="#e8a812"/><rect x="879.60" y="340.16" width="29.72" height="12.4" rx="1" fill="#e8a812"/><rect x="910.47" y="340.16" width="29.72" height="12.4" rx="1" fill="#ee4124"/><rect x="941.34" y="340.16" width="29.72" height="12.4" rx="1" fill="#ee4124"/><rect x="972.22" y="340.16" width="29.72" height="12.4" rx="1" fill="#ee4124"/><rect x="1003.09" y="340.16" width="29.72" height="12.4" rx="1" fill="#ee4124"/>
<text class="c" transform="translate(91.8,349.1) scale(.86,1)">1.42</text><text class="c" transform="translate(122.6,349.1) scale(.86,1)">1.51</text><text class="c" transform="translate(153.5,349.1) scale(.86,1)">1.61</text><text class="c" transform="translate(184.4,349.1) scale(.86,1)">1.71</text><text class="c" transform="translate(215.3,349.1) scale(.86,1)">1.80</text><text class="c" transform="translate(246.1,349.1) scale(.86,1)">1.90</text><text class="c" transform="translate(277.0,349.1) scale(.86,1)">2.00</text><text class="c" transform="translate(307.9,349.1) scale(.86,1)">2.09</text><text class="c" transform="translate(338.7,349.1) scale(.86,1)">2.19</text><text class="c" transform="translate(369.6,349.1) scale(.86,1)">2.29</text><text class="c" transform="translate(400.5,349.1) scale(.86,1)">2.38</text><text class="c" transform="translate(431.4,349.1) scale(.86,1)">2.48</text><text class="c" transform="translate(462.2,349.1) scale(.86,1)">2.58</text><text class="c" transform="translate(493.1,349.1) scale(.86,1)">2.67</text><text class="c" transform="translate(524.0,349.1) scale(.86,1)">2.77</text><text class="c" transform="translate(554.9,349.1) scale(.86,1)">2.87</text><text class="c" transform="translate(585.7,349.1) scale(.86,1)">2.96</text><text class="c" transform="translate(616.6,349.1) scale(.86,1)">3.06</text><text class="c" transform="translate(647.5,349.1) scale(.86,1)">3.16</text><text class="c" transform="translate(678.3,349.1) scale(.86,1)">3.25</text><text class="c" transform="translate(709.2,349.1) scale(.86,1)">3.35</text><text class="c" transform="translate(740.1,349.1) scale(.86,1)">3.45</text><text class="c" transform="translate(771.0,349.1) scale(.86,1)">3.54</text><text class="c" transform="translate(801.8,349.1) scale(.86,1)">3.64</text><text class="c" transform="translate(832.7,349.1) scale(.86,1)">3.74</text><text class="c" transform="translate(863.6,349.1) scale(.86,1)">3.83</text><text class="c" transform="translate(894.5,349.1) scale(.86,1)">3.93</text><text class="c" transform="translate(925.3,349.1) scale(.86,1)">4.03</text><text class="c" transform="translate(956.2,349.1) scale(.86,1)">4.12</text><text class="c" transform="translate(987.1,349.1) scale(.86,1)">4.22</text><text class="c" transform="translate(1018.0,349.1) scale(.86,1)">4.31</text>
<text class="h" transform="translate(63.3,363.5) scale(.87,1)">39</text>
<text class="h" transform="translate(1045.2,363.5) scale(.8,1)">4.0</text>
<rect x="76.90" y="354.10" width="29.72" height="12.4" rx="1" fill="#808284"/><rect x="107.77" y="354.10" width="29.72" height="12.4" rx="1" fill="#808284"/><rect x="138.65" y="354.10" width="29.72" height="12.4" rx="1" fill="#0a85c9"/><rect x="169.52" y="354.10" width="29.72" height="12.4" rx="1" fill="#0a85c9"/><rect x="200.39" y="354.10" width="29.72" height="12.4" rx="1" fill="#0a85c9"/><rect x="231.27" y="354.10" width="29.72" height="12.4" rx="1" fill="#0a85c9"/><rect x="262.14" y="354.10" width="29.72" height="12.4" rx="1" fill="#0a85c9"/><rect x="293.01" y="354.10" width="29.72" height="12.4" rx="1" fill="#0a85c9"/><rect x="323.88" y="354.10" width="29.72" height="12.4" rx="1" fill="#0a85c9"/><rect x="354.76" y="354.10" width="29.72" height="12.4" rx="1" fill="#62ba46"/><rect x="385.63" y="354.10" width="29.72" height="12.4" rx="1" fill="#62ba46"/><rect x="416.50" y="354.10" width="29.72" height="12.4" rx="1" fill="#62ba46"/><rect x="447.38" y="354.10" width="29.72" height="12.4" rx="1" fill="#62ba46"/><rect x="478.25" y="354.10" width="29.72" height="12.4" rx="1" fill="#e8a812"/><rect x="509.12" y="354.10" width="29.72" height="12.4" rx="1" fill="#e8a812"/><rect x="540.00" y="354.10" width="29.72" height="12.4" rx="1" fill="#e8a812"/><rect x="570.87" y="354.10" width="29.72" height="12.4" rx="1" fill="#e8a812"/><rect x="601.74" y="354.10" width="29.72" height="12.4" rx="1" fill="#e8a812"/><rect x="632.61" y="354.10" width="29.72" height="12.4" rx="1" fill="#e8a812"/><rect x="663.49" y="354.10" width="29.72" height="12.4" rx="1" fill="#e8a812"/><rect x="694.36" y="354.10" width="29.72" height="12.4" rx="1" fill="#e8a812"/><rect x="725.23" y="354.10" width="29.72" height="12.4" rx="1" fill="#e8a812"/><rect x="756.11" y="354.10" width="29.72" height="12.4" rx="1" fill="#e8a812"/><rect x="786.98" y="354.10" width="29.72" height="12.4" rx="1" fill="#e8a812"/><rect x="817.85" y="354.10" width="29.72" height="12.4" rx="1" fill="#e8a812"/><rect x="848.73" y="354.10" width="29.72" height="12.4" rx="1" fill="#e8a812"/><rect x="879.60" y="354.10" width="29.72" height="12.4" rx="1" fill="#e8a812"/><rect x="910.47" y="354.10" width="29.72" height="12.4" rx="1" fill="#e8a812"/><rect x="941.34" y="354.10" width="29.72" height="12.4" rx="1" fill="#ee4124"/><rect x="972.22" y="354.10" width="29.72" height="12.4" rx="1" fill="#ee4124"/><rect x="1003.09" y="354.10" width="29.72" height="12.4" rx="1" fill="#ee4124"/>
<text class="c" transform="translate(91.8,363.0) scale(.86,1)">1.39</text><text class="c" transform="translate(122.6,363.0) scale(.86,1)">1.48</text><text class="c" transform="translate(153.5,363.0) scale(.86,1)">1.58</text><text class="c" transform="translate(184.4,363.0) scale(.86,1)">1.67</text><text class="c" transform="translate(215.3,363.0) scale(.86,1)">1.77</text><text class="c" transform="translate(246.1,363.0) scale(.86,1)">1.86</text><text class="c" transform="translate(277.0,363.0) scale(.86,1)">1.96</text><text class="c" transform="translate(307.9,363.0) scale(.86,1)">2.05</text><text class="c" transform="translate(338.7,363.0) scale(.86,1)">2.15</text><text class="c" transform="translate(369.6,363.0) scale(.86,1)">2.24</text><text class="c" transform="translate(400.5,363.0) scale(.86,1)">2.34</text><text class="c" transform="translate(431.4,363.0) scale(.86,1)">2.43</text><text class="c" transform="translate(462.2,363.0) scale(.86,1)">2.53</text><text class="c" transform="translate(493.1,363.0) scale(.86,1)">2.62</text><text class="c" transform="translate(524.0,363.0) scale(.86,1)">2.72</text><text class="c" transform="translate(554.9,363.0) scale(.86,1)">2.81</text><text class="c" transform="translate(585.7,363.0) scale(.86,1)">2.91</text><text class="c" transform="translate(616.6,363.0) scale(.86,1)">3.00</text><text class="c" transform="translate(647.5,363.0) scale(.86,1)">3.10</text><text class="c" transform="translate(678.3,363.0) scale(.86,1)">3.19</text><text class="c" transform="translate(709.2,363.0) scale(.86,1)">3.29</text><text class="c" transform="translate(740.1,363.0) scale(.86,1)">3.38</text><text class="c" transform="translate(771.0,363.0) scale(.86,1)">3.48</text><text class="c" transform="translate(801.8,363.0) scale(.86,1)">3.57</text><text class="c" transform="translate(832.7,363.0) scale(.86,1)">3.67</text><text class="c" transform="translate(863.6,363.0) scale(.86,1)">3.76</text><text class="c" transform="translate(894.5,363.0) scale(.86,1)">3.86</text><text class="c" transform="translate(925.3,363.0) scale(.86,1)">3.95</text><text class="c" transform="translate(956.2,363.0) scale(.86,1)">4.04</text><text class="c" transform="translate(987.1,363.0) scale(.86,1)">4.14</text><text class="c" transform="translate(1018.0,363.0) scale(.86,1)">4.23</text>
<text class="h" transform="translate(63.3,377.4) scale(.87,1)">40</text>
<text class="h" transform="translate(1045.2,377.4) scale(.8,1)">4.5</text>
<rect x="76.90" y="368.04" width="29.72" height="12.4" rx="1" fill="#808284"/><rect x="107.77" y="368.04" width="29.72" height="12.4" rx="1" fill="#808284"/><rect x="138.65" y="368.04" width="29.72" height="12.4" rx="1" fill="#0a85c9"/><rect x="169.52" y="368.04" width="29.72" height="12.4" rx="1" fill="#0a85c9"/><rect x="200.39" y="368.04" width="29.72" height="12.4" rx="1" fill="#0a85c9"/><rect x="231.27" y="368.04" width="29.72" height="12.4" rx="1" fill="#0a85c9"/><rect x="262.14" y="368.04" width="29.72" height="12.4" rx="1" fill="#0a85c9"/><rect x="293.01" y="368.04" width="29.72" height="12.4" rx="1" fill="#0a85c9"/><rect x="323.88" y="368.04" width="29.72" height="12.4" rx="1" fill="#0a85c9"/><rect x="354.76" y="368.04" width="29.72" height="12.4" rx="1" fill="#62ba46"/><rect x="385.63" y="368.04" width="29.72" height="12.4" rx="1" fill="#62ba46"/><rect x="416.50" y="368.04" width="29.72" height="12.4" rx="1" fill="#62ba46"/><rect x="447.38" y="368.04" width="29.72" height="12.4" rx="1" fill="#62ba46"/><rect x="478.25" y="368.04" width="29.72" height="12.4" rx="1" fill="#62ba46"/><rect x="509.12" y="368.04" width="29.72" height="12.4" rx="1" fill="#e8a812"/><rect x="540.00" y="368.04" width="29.72" height="12.4" rx="1" fill="#e8a812"/><rect x="570.87" y="368.04" width="29.72" height="12.4" rx="1" fill="#e8a812"/><rect x="601.74" y="368.04" width="29.72" height="12.4" rx="1" fill="#e8a812"/><rect x="632.61" y="368.04" width="29.72" height="12.4" rx="1" fill="#e8a812"/><rect x="663.49" y="368.04" width="29.72" height="12.4" rx="1" fill="#e8a812"/><rect x="694.36" y="368.04" width="29.72" height="12.4" rx="1" fill="#e8a812"/><rect x="725.23" y="368.04" width="29.72" height="12.4" rx="1" fill="#e8a812"/><rect x="756.11" y="368.04" width="29.72" height="12.4" rx="1" fill="#e8a812"/><rect x="786.98" y="368.04" width="29.72" height="12.4" rx="1" fill="#e8a812"/><rect x="817.85" y="368.04" width="29.72" height="12.4" rx="1" fill="#e8a812"/><rect x="848.73" y="368.04" width="29.72" height="12.4" rx="1" fill="#e8a812"/><rect x="879.60" y="368.04" width="29.72" height="12.4" rx="1" fill="#e8a812"/><rect x="910.47" y="368.04" width="29.72" height="12.4" rx="1" fill="#e8a812"/><rect x="941.34" y="368.04" width="29.72" height="12.4" rx="1" fill="#e8a812"/><rect x="972.22" y="368.04" width="29.72" height="12.4" rx="1" fill="#ee4124"/><rect x="1003.09" y="368.04" width="29.72" height="12.4" rx="1" fill="#ee4124"/>
<text class="c" transform="translate(91.8,376.9) scale(.86,1)">1.36</text><text class="c" transform="translate(122.6,376.9) scale(.86,1)">1.46</text><text class="c" transform="translate(153.5,376.9) scale(.86,1)">1.55</text><text class="c" transform="translate(184.4,376.9) scale(.86,1)">1.64</text><text class="c" transform="translate(215.3,376.9) scale(.86,1)">1.74</text><text class="c" transform="translate(246.1,376.9) scale(.86,1)">1.83</text><text class="c" transform="translate(277.0,376.9) scale(.86,1)">1.92</text><text class="c" transform="translate(307.9,376.9) scale(.86,1)">2.02</text><text class="c" transform="translate(338.7,376.9) scale(.86,1)">2.11</text><text class="c" transform="translate(369.6,376.9) scale(.86,1)">2.20</text><text class="c" transform="translate(400.5,376.9) scale(.86,1)">2.29</text><text class="c" transform="translate(431.4,376.9) scale(.86,1)">2.39</text><text class="c" transform="translate(462.2,376.9) scale(.86,1)">2.48</text><text class="c" transform="translate(493.1,376.9) scale(.86,1)">2.57</text><text class="c" transform="translate(524.0,376.9) scale(.86,1)">2.67</text><text class="c" transform="translate(554.9,376.9) scale(.86,1)">2.76</text><text class="c" transform="translate(585.7,376.9) scale(.86,1)">2.85</text><text class="c" transform="translate(616.6,376.9) scale(.86,1)">2.95</text><text class="c" transform="translate(647.5,376.9) scale(.86,1)">3.04</text><text class="c" transform="translate(678.3,376.9) scale(.86,1)">3.13</text><text class="c" transform="translate(709.2,376.9) scale(.86,1)">3.23</text><text class="c" transform="translate(740.1,376.9) scale(.86,1)">3.32</text><text class="c" transform="translate(771.0,376.9) scale(.86,1)">3.41</text><text class="c" transform="translate(801.8,376.9) scale(.86,1)">3.50</text><text class="c" transform="translate(832.7,376.9) scale(.86,1)">3.60</text><text class="c" transform="translate(863.6,376.9) scale(.86,1)">3.69</text><text class="c" transform="translate(894.5,376.9) scale(.86,1)">3.78</text><text class="c" transform="translate(925.3,376.9) scale(.86,1)">3.88</text><text class="c" transform="translate(956.2,376.9) scale(.86,1)">3.97</text><text class="c" transform="translate(987.1,376.9) scale(.86,1)">4.06</text><text class="c" transform="translate(1018.0,376.9) scale(.86,1)">4.16</text>
<text class="h" transform="translate(63.3,391.4) scale(.87,1)">41</text>
<text class="h" transform="translate(1045.2,391.4) scale(.8,1)">5.0</text>
<rect x="76.90" y="381.99" width="29.72" height="12.4" rx="1" fill="#808284"/><rect x="107.77" y="381.99" width="29.72" height="12.4" rx="1" fill="#808284"/><rect x="138.65" y="381.99" width="29.72" height="12.4" rx="1" fill="#0a85c9"/><rect x="169.52" y="381.99" width="29.72" height="12.4" rx="1" fill="#0a85c9"/><rect x="200.39" y="381.99" width="29.72" height="12.4" rx="1" fill="#0a85c9"/><rect x="231.27" y="381.99" width="29.72" height="12.4" rx="1" fill="#0a85c9"/><rect x="262.14" y="381.99" width="29.72" height="12.4" rx="1" fill="#0a85c9"/><rect x="293.01" y="381.99" width="29.72" height="12.4" rx="1" fill="#0a85c9"/><rect x="323.88" y="381.99" width="29.72" height="12.4" rx="1" fill="#0a85c9"/><rect x="354.76" y="381.99" width="29.72" height="12.4" rx="1" fill="#62ba46"/><rect x="385.63" y="381.99" width="29.72" height="12.4" rx="1" fill="#62ba46"/><rect x="416.50" y="381.99" width="29.72" height="12.4" rx="1" fill="#62ba46"/><rect x="447.38" y="381.99" width="29.72" height="12.4" rx="1" fill="#62ba46"/><rect x="478.25" y="381.99" width="29.72" height="12.4" rx="1" fill="#62ba46"/><rect x="509.12" y="381.99" width="29.72" height="12.4" rx="1" fill="#e8a812"/><rect x="540.00" y="381.99" width="29.72" height="12.4" rx="1" fill="#e8a812"/><rect x="570.87" y="381.99" width="29.72" height="12.4" rx="1" fill="#e8a812"/><rect x="601.74" y="381.99" width="29.72" height="12.4" rx="1" fill="#e8a812"/><rect x="632.61" y="381.99" width="29.72" height="12.4" rx="1" fill="#e8a812"/><rect x="663.49" y="381.99" width="29.72" height="12.4" rx="1" fill="#e8a812"/><rect x="694.36" y="381.99" width="29.72" height="12.4" rx="1" fill="#e8a812"/><rect x="725.23" y="381.99" width="29.72" height="12.4" rx="1" fill="#e8a812"/><rect x="756.11" y="381.99" width="29.72" height="12.4" rx="1" fill="#e8a812"/><rect x="786.98" y="381.99" width="29.72" height="12.4" rx="1" fill="#e8a812"/><rect x="817.85" y="381.99" width="29.72" height="12.4" rx="1" fill="#e8a812"/><rect x="848.73" y="381.99" width="29.72" height="12.4" rx="1" fill="#e8a812"/><rect x="879.60" y="381.99" width="29.72" height="12.4" rx="1" fill="#e8a812"/><rect x="910.47" y="381.99" width="29.72" height="12.4" rx="1" fill="#e8a812"/><rect x="941.34" y="381.99" width="29.72" height="12.4" rx="1" fill="#e8a812"/><rect x="972.22" y="381.99" width="29.72" height="12.4" rx="1" fill="#e8a812"/><rect x="1003.09" y="381.99" width="29.72" height="12.4" rx="1" fill="#ee4124"/>
<text class="c" transform="translate(91.8,390.9) scale(.86,1)">1.34</text><text class="c" transform="translate(122.6,390.9) scale(.86,1)">1.43</text><text class="c" transform="translate(153.5,390.9) scale(.86,1)">1.52</text><text class="c" transform="translate(184.4,390.9) scale(.86,1)">1.61</text><text class="c" transform="translate(215.3,390.9) scale(.86,1)">1.70</text><text class="c" transform="translate(246.1,390.9) scale(.86,1)">1.80</text><text class="c" transform="translate(277.0,390.9) scale(.86,1)">1.89</text><text class="c" transform="translate(307.9,390.9) scale(.86,1)">1.98</text><text class="c" transform="translate(338.7,390.9) scale(.86,1)">2.07</text><text class="c" transform="translate(369.6,390.9) scale(.86,1)">2.16</text><text class="c" transform="translate(400.5,390.9) scale(.86,1)">2.25</text><text class="c" transform="translate(431.4,390.9) scale(.86,1)">2.34</text><text class="c" transform="translate(462.2,390.9) scale(.86,1)">2.44</text><text class="c" transform="translate(493.1,390.9) scale(.86,1)">2.53</text><text class="c" transform="translate(524.0,390.9) scale(.86,1)">2.62</text><text class="c" transform="translate(554.9,390.9) scale(.86,1)">2.71</text><text class="c" transform="translate(585.7,390.9) scale(.86,1)">2.80</text><text class="c" transform="translate(616.6,390.9) scale(.86,1)">2.89</text><text class="c" transform="translate(647.5,390.9) scale(.86,1)">2.98</text><text class="c" transform="translate(678.3,390.9) scale(.86,1)">3.07</text><text class="c" transform="translate(709.2,390.9) scale(.86,1)">3.17</text><text class="c" transform="translate(740.1,390.9) scale(.86,1)">3.26</text><text class="c" transform="translate(771.0,390.9) scale(.86,1)">3.35</text><text class="c" transform="translate(801.8,390.9) scale(.86,1)">3.44</text><text class="c" transform="translate(832.7,390.9) scale(.86,1)">3.53</text><text class="c" transform="translate(863.6,390.9) scale(.86,1)">3.62</text><text class="c" transform="translate(894.5,390.9) scale(.86,1)">3.71</text><text class="c" transform="translate(925.3,390.9) scale(.86,1)">3.81</text><text class="c" transform="translate(956.2,390.9) scale(.86,1)">3.90</text><text class="c" transform="translate(987.1,390.9) scale(.86,1)">3.99</text><text class="c" transform="translate(1018.0,390.9) scale(.86,1)">4.08</text>
<text class="h" transform="translate(63.3,405.3) scale(.87,1)">42</text>
<text class="h" transform="translate(1045.2,405.3) scale(.8,1)">5.5</text>
<rect x="76.90" y="395.93" width="29.72" height="12.4" rx="1" fill="#808284"/><rect x="107.77" y="395.93" width="29.72" height="12.4" rx="1" fill="#808284"/><rect x="138.65" y="395.93" width="29.72" height="12.4" rx="1" fill="#0a85c9"/><rect x="169.52" y="395.93" width="29.72" height="12.4" rx="1" fill="#0a85c9"/><rect x="200.39" y="395.93" width="29.72" height="12.4" rx="1" fill="#0a85c9"/><rect x="231.27" y="395.93" width="29.72" height="12.4" rx="1" fill="#0a85c9"/><rect x="262.14" y="395.93" width="29.72" height="12.4" rx="1" fill="#0a85c9"/><rect x="293.01" y="395.93" width="29.72" height="12.4" rx="1" fill="#0a85c9"/><rect x="323.88" y="395.93" width="29.72" height="12.4" rx="1" fill="#0a85c9"/><rect x="354.76" y="395.93" width="29.72" height="12.4" rx="1" fill="#0a85c9"/><rect x="385.63" y="395.93" width="29.72" height="12.4" rx="1" fill="#62ba46"/><rect x="416.50" y="395.93" width="29.72" height="12.4" rx="1" fill="#62ba46"/><rect x="447.38" y="395.93" width="29.72" height="12.4" rx="1" fill="#62ba46"/><rect x="478.25" y="395.93" width="29.72" height="12.4" rx="1" fill="#62ba46"/><rect x="509.12" y="395.93" width="29.72" height="12.4" rx="1" fill="#62ba46"/><rect x="540.00" y="395.93" width="29.72" height="12.4" rx="1" fill="#e8a812"/><rect x="570.87" y="395.93" width="29.72" height="12.4" rx="1" fill="#e8a812"/><rect x="601.74" y="395.93" width="29.72" height="12.4" rx="1" fill="#e8a812"/><rect x="632.61" y="395.93" width="29.72" height="12.4" rx="1" fill="#e8a812"/><rect x="663.49" y="395.93" width="29.72" height="12.4" rx="1" fill="#e8a812"/><rect x="694.36" y="395.93" width="29.72" height="12.4" rx="1" fill="#e8a812"/><rect x="725.23" y="395.93" width="29.72" height="12.4" rx="1" fill="#e8a812"/><rect x="756.11" y="395.93" width="29.72" height="12.4" rx="1" fill="#e8a812"/><rect x="786.98" y="395.93" width="29.72" height="12.4" rx="1" fill="#e8a812"/><rect x="817.85" y="395.93" width="29.72" height="12.4" rx="1" fill="#e8a812"/><rect x="848.73" y="395.93" width="29.72" height="12.4" rx="1" fill="#e8a812"/><rect x="879.60" y="395.93" width="29.72" height="12.4" rx="1" fill="#e8a812"/><rect x="910.47" y="395.93" width="29.72" height="12.4" rx="1" fill="#e8a812"/><rect x="941.34" y="395.93" width="29.72" height="12.4" rx="1" fill="#e8a812"/><rect x="972.22" y="395.93" width="29.72" height="12.4" rx="1" fill="#e8a812"/><rect x="1003.09" y="395.93" width="29.72" height="12.4" rx="1" fill="#ee4124"/>
<text class="c" transform="translate(91.8,404.8) scale(.86,1)">1.31</text><text class="c" transform="translate(122.6,404.8) scale(.86,1)">1.40</text><text class="c" transform="translate(153.5,404.8) scale(.86,1)">1.49</text><text class="c" transform="translate(184.4,404.8) scale(.86,1)">1.58</text><text class="c" transform="translate(215.3,404.8) scale(.86,1)">1.67</text><text class="c" transform="translate(246.1,404.8) scale(.86,1)">1.76</text><text class="c" transform="translate(277.0,404.8) scale(.86,1)">1.85</text><text class="c" transform="translate(307.9,404.8) scale(.86,1)">1.94</text><text class="c" transform="translate(338.7,404.8) scale(.86,1)">2.03</text><text class="c" transform="translate(369.6,404.8) scale(.86,1)">2.12</text><text class="c" transform="translate(400.5,404.8) scale(.86,1)">2.21</text><text class="c" transform="translate(431.4,404.8) scale(.86,1)">2.30</text><text class="c" transform="translate(462.2,404.8) scale(.86,1)">2.39</text><text class="c" transform="translate(493.1,404.8) scale(.86,1)">2.48</text><text class="c" transform="translate(524.0,404.8) scale(.86,1)">2.57</text><text class="c" transform="translate(554.9,404.8) scale(.86,1)">2.66</text><text class="c" transform="translate(585.7,404.8) scale(.86,1)">2.75</text><text class="c" transform="translate(616.6,404.8) scale(.86,1)">2.84</text><text class="c" transform="translate(647.5,404.8) scale(.86,1)">2.93</text><text class="c" transform="translate(678.3,404.8) scale(.86,1)">3.02</text><text class="c" transform="translate(709.2,404.8) scale(.86,1)">3.11</text><text class="c" transform="translate(740.1,404.8) scale(.86,1)">3.20</text><text class="c" transform="translate(771.0,404.8) scale(.86,1)">3.29</text><text class="c" transform="translate(801.8,404.8) scale(.86,1)">3.38</text><text class="c" transform="translate(832.7,404.8) scale(.86,1)">3.47</text><text class="c" transform="translate(863.6,404.8) scale(.86,1)">3.56</text><text class="c" transform="translate(894.5,404.8) scale(.86,1)">3.65</text><text class="c" transform="translate(925.3,404.8) scale(.86,1)">3.74</text><text class="c" transform="translate(956.2,404.8) scale(.86,1)">3.83</text><text class="c" transform="translate(987.1,404.8) scale(.86,1)">3.91</text><text class="c" transform="translate(1018.0,404.8) scale(.86,1)">4.00</text>
<text class="h" transform="translate(63.3,419.3) scale(.87,1)">43</text>
<text class="h" transform="translate(1045.2,419.3) scale(.8,1)">6.0</text>
<rect x="76.90" y="409.87" width="29.72" height="12.4" rx="1" fill="#808284"/><rect x="107.77" y="409.87" width="29.72" height="12.4" rx="1" fill="#808284"/><rect x="138.65" y="409.87" width="29.72" height="12.4" rx="1" fill="#808284"/><rect x="169.52" y="409.87" width="29.72" height="12.4" rx="1" fill="#0a85c9"/><rect x="200.39" y="409.87" width="29.72" height="12.4" rx="1" fill="#0a85c9"/><rect x="231.27" y="409.87" width="29.72" height="12.4" rx="1" fill="#0a85c9"/><rect x="262.14" y="409.87" width="29.72" height="12.4" rx="1" fill="#0a85c9"/><rect x="293.01" y="409.87" width="29.72" height="12.4" rx="1" fill="#0a85c9"/><rect x="323.88" y="409.87" width="29.72" height="12.4" rx="1" fill="#0a85c9"/><rect x="354.76" y="409.87" width="29.72" height="12.4" rx="1" fill="#0a85c9"/><rect x="385.63" y="409.87" width="29.72" height="12.4" rx="1" fill="#62ba46"/><rect x="416.50" y="409.87" width="29.72" height="12.4" rx="1" fill="#62ba46"/><rect x="447.38" y="409.87" width="29.72" height="12.4" rx="1" fill="#62ba46"/><rect x="478.25" y="409.87" width="29.72" height="12.4" rx="1" fill="#62ba46"/><rect x="509.12" y="409.87" width="29.72" height="12.4" rx="1" fill="#62ba46"/><rect x="540.00" y="409.87" width="29.72" height="12.4" rx="1" fill="#e8a812"/><rect x="570.87" y="409.87" width="29.72" height="12.4" rx="1" fill="#e8a812"/><rect x="601.74" y="409.87" width="29.72" height="12.4" rx="1" fill="#e8a812"/><rect x="632.61" y="409.87" width="29.72" height="12.4" rx="1" fill="#e8a812"/><rect x="663.49" y="409.87" width="29.72" height="12.4" rx="1" fill="#e8a812"/><rect x="694.36" y="409.87" width="29.72" height="12.4" rx="1" fill="#e8a812"/><rect x="725.23" y="409.87" width="29.72" height="12.4" rx="1" fill="#e8a812"/><rect x="756.11" y="409.87" width="29.72" height="12.4" rx="1" fill="#e8a812"/><rect x="786.98" y="409.87" width="29.72" height="12.4" rx="1" fill="#e8a812"/><rect x="817.85" y="409.87" width="29.72" height="12.4" rx="1" fill="#e8a812"/><rect x="848.73" y="409.87" width="29.72" height="12.4" rx="1" fill="#e8a812"/><rect x="879.60" y="409.87" width="29.72" height="12.4" rx="1" fill="#e8a812"/><rect x="910.47" y="409.87" width="29.72" height="12.4" rx="1" fill="#e8a812"/><rect x="941.34" y="409.87" width="29.72" height="12.4" rx="1" fill="#e8a812"/><rect x="972.22" y="409.87" width="29.72" height="12.4" rx="1" fill="#e8a812"/><rect x="1003.09" y="409.87" width="29.72" height="12.4" rx="1" fill="#e8a812"/>
<text class="c" transform="translate(91.8,418.8) scale(.86,1)">1.29</text><text class="c" transform="translate(122.6,418.8) scale(.86,1)">1.38</text><text class="c" transform="translate(153.5,418.8) scale(.86,1)">1.47</text><text class="c" transform="translate(184.4,418.8) scale(.86,1)">1.55</text><text class="c" transform="translate(215.3,418.8) scale(.86,1)">1.64</text><text class="c" transform="translate(246.1,418.8) scale(.86,1)">1.73</text><text class="c" transform="translate(277.0,418.8) scale(.86,1)">1.82</text><text class="c" transform="translate(307.9,418.8) scale(.86,1)">1.91</text><text class="c" transform="translate(338.7,418.8) scale(.86,1)">1.99</text><text class="c" transform="translate(369.6,418.8) scale(.86,1)">2.08</text><text class="c" transform="translate(400.5,418.8) scale(.86,1)">2.17</text><text class="c" transform="translate(431.4,418.8) scale(.86,1)">2.26</text><text class="c" transform="translate(462.2,418.8) scale(.86,1)">2.35</text><text class="c" transform="translate(493.1,418.8) scale(.86,1)">2.43</text><text class="c" transform="translate(524.0,418.8) scale(.86,1)">2.52</text><text class="c" transform="translate(554.9,418.8) scale(.86,1)">2.61</text><text class="c" transform="translate(585.7,418.8) scale(.86,1)">2.70</text><text class="c" transform="translate(616.6,418.8) scale(.86,1)">2.79</text><text class="c" transform="translate(647.5,418.8) scale(.86,1)">2.87</text><text class="c" transform="translate(678.3,418.8) scale(.86,1)">2.96</text><text class="c" transform="translate(709.2,418.8) scale(.86,1)">3.05</text><text class="c" transform="translate(740.1,418.8) scale(.86,1)">3.14</text><text class="c" transform="translate(771.0,418.8) scale(.86,1)">3.23</text><text class="c" transform="translate(801.8,418.8) scale(.86,1)">3.31</text><text class="c" transform="translate(832.7,418.8) scale(.86,1)">3.40</text><text class="c" transform="translate(863.6,418.8) scale(.86,1)">3.49</text><text class="c" transform="translate(894.5,418.8) scale(.86,1)">3.58</text><text class="c" transform="translate(925.3,418.8) scale(.86,1)">3.67</text><text class="c" transform="translate(956.2,418.8) scale(.86,1)">3.76</text><text class="c" transform="translate(987.1,418.8) scale(.86,1)">3.84</text><text class="c" transform="translate(1018.0,418.8) scale(.86,1)">3.93</text>
<text class="h" transform="translate(63.3,433.2) scale(.87,1)">44</text>
<text class="h" transform="translate(1045.2,433.2) scale(.8,1)">6.5</text>
<rect x="76.90" y="423.82" width="29.72" height="12.4" rx="1" fill="#808284"/><rect x="107.77" y="423.82" width="29.72" height="12.4" rx="1" fill="#808284"/><rect x="138.65" y="423.82" width="29.72" height="12.4" rx="1" fill="#808284"/><rect x="169.52" y="423.82" width="29.72" height="12.4" rx="1" fill="#0a85c9"/><rect x="200.39" y="423.82" width="29.72" height="12.4" rx="1" fill="#0a85c9"/><rect x="231.27" y="423.82" width="29.72" height="12.4" rx="1" fill="#0a85c9"/><rect x="262.14" y="423.82" width="29.72" height="12.4" rx="1" fill="#0a85c9"/><rect x="293.01" y="423.82" width="29.72" height="12.4" rx="1" fill="#0a85c9"/><rect x="323.88" y="423.82" width="29.72" height="12.4" rx="1" fill="#0a85c9"/><rect x="354.76" y="423.82" width="29.72" height="12.4" rx="1" fill="#0a85c9"/><rect x="385.63" y="423.82" width="29.72" height="12.4" rx="1" fill="#0a85c9"/><rect x="416.50" y="423.82" width="29.72" height="12.4" rx="1" fill="#62ba46"/><rect x="447.38" y="423.82" width="29.72" height="12.4" rx="1" fill="#62ba46"/><rect x="478.25" y="423.82" width="29.72" height="12.4" rx="1" fill="#62ba46"/><rect x="509.12" y="423.82" width="29.72" height="12.4" rx="1" fill="#62ba46"/><rect x="540.00" y="423.82" width="29.72" height="12.4" rx="1" fill="#62ba46"/><rect x="570.87" y="423.82" width="29.72" height="12.4" rx="1" fill="#e8a812"/><rect x="601.74" y="423.82" width="29.72" height="12.4" rx="1" fill="#e8a812"/><rect x="632.61" y="423.82" width="29.72" height="12.4" rx="1" fill="#e8a812"/><rect x="663.49" y="423.82" width="29.72" height="12.4" rx="1" fill="#e8a812"/><rect x="694.36" y="423.82" width="29.72" height="12.4" rx="1" fill="#e8a812"/><rect x="725.23" y="423.82" width="29.72" height="12.4" rx="1" fill="#e8a812"/><rect x="756.11" y="423.82" width="29.72" height="12.4" rx="1" fill="#e8a812"/><rect x="786.98" y="423.82" width="29.72" height="12.4" rx="1" fill="#e8a812"/><rect x="817.85" y="423.82" width="29.72" height="12.4" rx="1" fill="#e8a812"/><rect x="848.73" y="423.82" width="29.72" height="12.4" rx="1" fill="#e8a812"/><rect x="879.60" y="423.82" width="29.72" height="12.4" rx="1" fill="#e8a812"/><rect x="910.47" y="423.82" width="29.72" height="12.4" rx="1" fill="#e8a812"/><rect x="941.34" y="423.82" width="29.72" height="12.4" rx="1" fill="#e8a812"/><rect x="972.22" y="423.82" width="29.72" height="12.4" rx="1" fill="#e8a812"/><rect x="1003.09" y="423.82" width="29.72" height="12.4" rx="1" fill="#e8a812"/>
<text class="c" transform="translate(91.8,432.7) scale(.86,1)">1.27</text><text class="c" transform="translate(122.6,432.7) scale(.86,1)">1.35</text><text class="c" transform="translate(153.5,432.7) scale(.86,1)">1.44</text><text class="c" transform="translate(184.4,432.7) scale(.86,1)">1.53</text><text class="c" transform="translate(215.3,432.7) scale(.86,1)">1.61</text><text class="c" transform="translate(246.1,432.7) scale(.86,1)">1.70</text><text class="c" transform="translate(277.0,432.7) scale(.86,1)">1.79</text><text class="c" transform="translate(307.9,432.7) scale(.86,1)">1.87</text><text class="c" transform="translate(338.7,432.7) scale(.86,1)">1.96</text><text class="c" transform="translate(369.6,432.7) scale(.86,1)">2.04</text><text class="c" transform="translate(400.5,432.7) scale(.86,1)">2.13</text><text class="c" transform="translate(431.4,432.7) scale(.86,1)">2.22</text><text class="c" transform="translate(462.2,432.7) scale(.86,1)">2.30</text><text class="c" transform="translate(493.1,432.7) scale(.86,1)">2.39</text><text class="c" transform="translate(524.0,432.7) scale(.86,1)">2.48</text><text class="c" transform="translate(554.9,432.7) scale(.86,1)">2.56</text><text class="c" transform="translate(585.7,432.7) scale(.86,1)">2.65</text><text class="c" transform="translate(616.6,432.7) scale(.86,1)">2.74</text><text class="c" transform="translate(647.5,432.7) scale(.86,1)">2.82</text><text class="c" transform="translate(678.3,432.7) scale(.86,1)">2.91</text><text class="c" transform="translate(709.2,432.7) scale(.86,1)">3.00</text><text class="c" transform="translate(740.1,432.7) scale(.86,1)">3.08</text><text class="c" transform="translate(771.0,432.7) scale(.86,1)">3.17</text><text class="c" transform="translate(801.8,432.7) scale(.86,1)">3.25</text><text class="c" transform="translate(832.7,432.7) scale(.86,1)">3.34</text><text class="c" transform="translate(863.6,432.7) scale(.86,1)">3.43</text><text class="c" transform="translate(894.5,432.7) scale(.86,1)">3.51</text><text class="c" transform="translate(925.3,432.7) scale(.86,1)">3.60</text><text class="c" transform="translate(956.2,432.7) scale(.86,1)">3.69</text><text class="c" transform="translate(987.1,432.7) scale(.86,1)">3.77</text><text class="c" transform="translate(1018.0,432.7) scale(.86,1)">3.86</text>
<text class="h" transform="translate(63.3,447.2) scale(.87,1)">45</text>
<text class="h" transform="translate(1045.2,447.2) scale(.8,1)">7.0</text>
<rect x="76.90" y="437.76" width="29.72" height="12.4" rx="1" fill="#808284"/><rect x="107.77" y="437.76" width="29.72" height="12.4" rx="1" fill="#808284"/><rect x="138.65" y="437.76" width="29.72" height="12.4" rx="1" fill="#808284"/><rect x="169.52" y="437.76" width="29.72" height="12.4" rx="1" fill="#0a85c9"/><rect x="200.39" y="437.76" width="29.72" height="12.4" rx="1" fill="#0a85c9"/><rect x="231.27" y="437.76" width="29.72" height="12.4" rx="1" fill="#0a85c9"/><rect x="262.14" y="437.76" width="29.72" height="12.4" rx="1" fill="#0a85c9"/><rect x="293.01" y="437.76" width="29.72" height="12.4" rx="1" fill="#0a85c9"/><rect x="323.88" y="437.76" width="29.72" height="12.4" rx="1" fill="#0a85c9"/><rect x="354.76" y="437.76" width="29.72" height="12.4" rx="1" fill="#0a85c9"/><rect x="385.63" y="437.76" width="29.72" height="12.4" rx="1" fill="#0a85c9"/><rect x="416.50" y="437.76" width="29.72" height="12.4" rx="1" fill="#62ba46"/><rect x="447.38" y="437.76" width="29.72" height="12.4" rx="1" fill="#62ba46"/><rect x="478.25" y="437.76" width="29.72" height="12.4" rx="1" fill="#62ba46"/><rect x="509.12" y="437.76" width="29.72" height="12.4" rx="1" fill="#62ba46"/><rect x="540.00" y="437.76" width="29.72" height="12.4" rx="1" fill="#62ba46"/><rect x="570.87" y="437.76" width="29.72" height="12.4" rx="1" fill="#e8a812"/><rect x="601.74" y="437.76" width="29.72" height="12.4" rx="1" fill="#e8a812"/><rect x="632.61" y="437.76" width="29.72" height="12.4" rx="1" fill="#e8a812"/><rect x="663.49" y="437.76" width="29.72" height="12.4" rx="1" fill="#e8a812"/><rect x="694.36" y="437.76" width="29.72" height="12.4" rx="1" fill="#e8a812"/><rect x="725.23" y="437.76" width="29.72" height="12.4" rx="1" fill="#e8a812"/><rect x="756.11" y="437.76" width="29.72" height="12.4" rx="1" fill="#e8a812"/><rect x="786.98" y="437.76" width="29.72" height="12.4" rx="1" fill="#e8a812"/><rect x="817.85" y="437.76" width="29.72" height="12.4" rx="1" fill="#e8a812"/><rect x="848.73" y="437.76" width="29.72" height="12.4" rx="1" fill="#e8a812"/><rect x="879.60" y="437.76" width="29.72" height="12.4" rx="1" fill="#e8a812"/><rect x="910.47" y="437.76" width="29.72" height="12.4" rx="1" fill="#e8a812"/><rect x="941.34" y="437.76" width="29.72" height="12.4" rx="1" fill="#e8a812"/><rect x="972.22" y="437.76" width="29.72" height="12.4" rx="1" fill="#e8a812"/><rect x="1003.09" y="437.76" width="29.72" height="12.4" rx="1" fill="#e8a812"/>
<text class="c" transform="translate(91.8,446.7) scale(.86,1)">1.24</text><text class="c" transform="translate(122.6,446.7) scale(.86,1)">1.33</text><text class="c" transform="translate(153.5,446.7) scale(.86,1)">1.41</text><text class="c" transform="translate(184.4,446.7) scale(.86,1)">1.50</text><text class="c" transform="translate(215.3,446.7) scale(.86,1)">1.58</text><text class="c" transform="translate(246.1,446.7) scale(.86,1)">1.67</text><text class="c" transform="translate(277.0,446.7) scale(.86,1)">1.75</text><text class="c" transform="translate(307.9,446.7) scale(.86,1)">1.84</text><text class="c" transform="translate(338.7,446.7) scale(.86,1)">1.92</text><text class="c" transform="translate(369.6,446.7) scale(.86,1)">2.01</text><text class="c" transform="translate(400.5,446.7) scale(.86,1)">2.09</text><text class="c" transform="translate(431.4,446.7) scale(.86,1)">2.18</text><text class="c" transform="translate(462.2,446.7) scale(.86,1)">2.26</text><text class="c" transform="translate(493.1,446.7) scale(.86,1)">2.35</text><text class="c" transform="translate(524.0,446.7) scale(.86,1)">2.43</text><text class="c" transform="translate(554.9,446.7) scale(.86,1)">2.52</text><text class="c" transform="translate(585.7,446.7) scale(.86,1)">2.60</text><text class="c" transform="translate(616.6,446.7) scale(.86,1)">2.69</text><text class="c" transform="translate(647.5,446.7) scale(.86,1)">2.77</text><text class="c" transform="translate(678.3,446.7) scale(.86,1)">2.86</text><text class="c" transform="translate(709.2,446.7) scale(.86,1)">2.94</text><text class="c" transform="translate(740.1,446.7) scale(.86,1)">3.03</text><text class="c" transform="translate(771.0,446.7) scale(.86,1)">3.11</text><text class="c" transform="translate(801.8,446.7) scale(.86,1)">3.20</text><text class="c" transform="translate(832.7,446.7) scale(.86,1)">3.28</text><text class="c" transform="translate(863.6,446.7) scale(.86,1)">3.37</text><text class="c" transform="translate(894.5,446.7) scale(.86,1)">3.45</text><text class="c" transform="translate(925.3,446.7) scale(.86,1)">3.54</text><text class="c" transform="translate(956.2,446.7) scale(.86,1)">3.62</text><text class="c" transform="translate(987.1,446.7) scale(.86,1)">3.70</text><text class="c" transform="translate(1018.0,446.7) scale(.86,1)">3.79</text>
<text class="h" transform="translate(63.3,461.1) scale(.87,1)">46</text>
<text class="h" transform="translate(1045.2,461.1) scale(.8,1)">8.0</text>
<rect x="76.90" y="451.70" width="29.72" height="12.4" rx="1" fill="#808284"/><rect x="107.77" y="451.70" width="29.72" height="12.4" rx="1" fill="#808284"/><rect x="138.65" y="451.70" width="29.72" height="12.4" rx="1" fill="#808284"/><rect x="169.52" y="451.70" width="29.72" height="12.4" rx="1" fill="#808284"/><rect x="200.39" y="451.70" width="29.72" height="12.4" rx="1" fill="#0a85c9"/><rect x="231.27" y="451.70" width="29.72" height="12.4" rx="1" fill="#0a85c9"/><rect x="262.14" y="451.70" width="29.72" height="12.4" rx="1" fill="#0a85c9"/><rect x="293.01" y="451.70" width="29.72" height="12.4" rx="1" fill="#0a85c9"/><rect x="323.88" y="451.70" width="29.72" height="12.4" rx="1" fill="#0a85c9"/><rect x="354.76" y="451.70" width="29.72" height="12.4" rx="1" fill="#0a85c9"/><rect x="385.63" y="451.70" width="29.72" height="12.4" rx="1" fill="#0a85c9"/><rect x="416.50" y="451.70" width="29.72" height="12.4" rx="1" fill="#0a85c9"/><rect x="447.38" y="451.70" width="29.72" height="12.4" rx="1" fill="#62ba46"/><rect x="478.25" y="451.70" width="29.72" height="12.4" rx="1" fill="#62ba46"/><rect x="509.12" y="451.70" width="29.72" height="12.4" rx="1" fill="#62ba46"/><rect x="540.00" y="451.70" width="29.72" height="12.4" rx="1" fill="#62ba46"/><rect x="570.87" y="451.70" width="29.72" height="12.4" rx="1" fill="#62ba46"/><rect x="601.74" y="451.70" width="29.72" height="12.4" rx="1" fill="#e8a812"/><rect x="632.61" y="451.70" width="29.72" height="12.4" rx="1" fill="#e8a812"/><rect x="663.49" y="451.70" width="29.72" height="12.4" rx="1" fill="#e8a812"/><rect x="694.36" y="451.70" width="29.72" height="12.4" rx="1" fill="#e8a812"/><rect x="725.23" y="451.70" width="29.72" height="12.4" rx="1" fill="#e8a812"/><rect x="756.11" y="451.70" width="29.72" height="12.4" rx="1" fill="#e8a812"/><rect x="786.98" y="451.70" width="29.72" height="12.4" rx="1" fill="#e8a812"/><rect x="817.85" y="451.70" width="29.72" height="12.4" rx="1" fill="#e8a812"/><rect x="848.73" y="451.70" width="29.72" height="12.4" rx="1" fill="#e8a812"/><rect x="879.60" y="451.70" width="29.72" height="12.4" rx="1" fill="#e8a812"/><rect x="910.47" y="451.70" width="29.72" height="12.4" rx="1" fill="#e8a812"/><rect x="941.34" y="451.70" width="29.72" height="12.4" rx="1" fill="#e8a812"/><rect x="972.22" y="451.70" width="29.72" height="12.4" rx="1" fill="#e8a812"/><rect x="1003.09" y="451.70" width="29.72" height="12.4" rx="1" fill="#e8a812"/>
<text class="c" transform="translate(91.8,460.6) scale(.86,1)">1.22</text><text class="c" transform="translate(122.6,460.6) scale(.86,1)">1.30</text><text class="c" transform="translate(153.5,460.6) scale(.86,1)">1.39</text><text class="c" transform="translate(184.4,460.6) scale(.86,1)">1.47</text><text class="c" transform="translate(215.3,460.6) scale(.86,1)">1.55</text><text class="c" transform="translate(246.1,460.6) scale(.86,1)">1.64</text><text class="c" transform="translate(277.0,460.6) scale(.86,1)">1.72</text><text class="c" transform="translate(307.9,460.6) scale(.86,1)">1.80</text><text class="c" transform="translate(338.7,460.6) scale(.86,1)">1.89</text><text class="c" transform="translate(369.6,460.6) scale(.86,1)">1.97</text><text class="c" transform="translate(400.5,460.6) scale(.86,1)">2.05</text><text class="c" transform="translate(431.4,460.6) scale(.86,1)">2.14</text><text class="c" transform="translate(462.2,460.6) scale(.86,1)">2.22</text><text class="c" transform="translate(493.1,460.6) scale(.86,1)">2.30</text><text class="c" transform="translate(524.0,460.6) scale(.86,1)">2.39</text><text class="c" transform="translate(554.9,460.6) scale(.86,1)">2.47</text><text class="c" transform="translate(585.7,460.6) scale(.86,1)">2.55</text><text class="c" transform="translate(616.6,460.6) scale(.86,1)">2.64</text><text class="c" transform="translate(647.5,460.6) scale(.86,1)">2.72</text><text class="c" transform="translate(678.3,460.6) scale(.86,1)">2.80</text><text class="c" transform="translate(709.2,460.6) scale(.86,1)">2.89</text><text class="c" transform="translate(740.1,460.6) scale(.86,1)">2.97</text><text class="c" transform="translate(771.0,460.6) scale(.86,1)">3.05</text><text class="c" transform="translate(801.8,460.6) scale(.86,1)">3.14</text><text class="c" transform="translate(832.7,460.6) scale(.86,1)">3.22</text><text class="c" transform="translate(863.6,460.6) scale(.86,1)">3.30</text><text class="c" transform="translate(894.5,460.6) scale(.86,1)">3.39</text><text class="c" transform="translate(925.3,460.6) scale(.86,1)">3.47</text><text class="c" transform="translate(956.2,460.6) scale(.86,1)">3.55</text><text class="c" transform="translate(987.1,460.6) scale(.86,1)">3.64</text><text class="c" transform="translate(1018.0,460.6) scale(.86,1)">3.72</text>
<text class="h" transform="translate(63.3,475.0) scale(.87,1)">47</text>
<text class="h" transform="translate(1045.2,475.0) scale(.8,1)">8.5</text>
<rect x="76.90" y="465.64" width="29.72" height="12.4" rx="1" fill="#808284"/><rect x="107.77" y="465.64" width="29.72" height="12.4" rx="1" fill="#808284"/><rect x="138.65" y="465.64" width="29.72" height="12.4" rx="1" fill="#808284"/><rect x="169.52" y="465.64" width="29.72" height="12.4" rx="1" fill="#808284"/><rect x="200.39" y="465.64" width="29.72" height="12.4" rx="1" fill="#0a85c9"/><rect x="231.27" y="465.64" width="29.72" height="12.4" rx="1" fill="#0a85c9"/><rect x="262.14" y="465.64" width="29.72" height="12.4" rx="1" fill="#0a85c9"/><rect x="293.01" y="465.64" width="29.72" height="12.4" rx="1" fill="#0a85c9"/><rect x="323.88" y="465.64" width="29.72" height="12.4" rx="1" fill="#0a85c9"/><rect x="354.76" y="465.64" width="29.72" height="12.4" rx="1" fill="#0a85c9"/><rect x="385.63" y="465.64" width="29.72" height="12.4" rx="1" fill="#0a85c9"/><rect x="416.50" y="465.64" width="29.72" height="12.4" rx="1" fill="#0a85c9"/><rect x="447.38" y="465.64" width="29.72" height="12.4" rx="1" fill="#62ba46"/><rect x="478.25" y="465.64" width="29.72" height="12.4" rx="1" fill="#62ba46"/><rect x="509.12" y="465.64" width="29.72" height="12.4" rx="1" fill="#62ba46"/><rect x="540.00" y="465.64" width="29.72" height="12.4" rx="1" fill="#62ba46"/><rect x="570.87" y="465.64" width="29.72" height="12.4" rx="1" fill="#62ba46"/><rect x="601.74" y="465.64" width="29.72" height="12.4" rx="1" fill="#62ba46"/><rect x="632.61" y="465.64" width="29.72" height="12.4" rx="1" fill="#e8a812"/><rect x="663.49" y="465.64" width="29.72" height="12.4" rx="1" fill="#e8a812"/><rect x="694.36" y="465.64" width="29.72" height="12.4" rx="1" fill="#e8a812"/><rect x="725.23" y="465.64" width="29.72" height="12.4" rx="1" fill="#e8a812"/><rect x="756.11" y="465.64" width="29.72" height="12.4" rx="1" fill="#e8a812"/><rect x="786.98" y="465.64" width="29.72" height="12.4" rx="1" fill="#e8a812"/><rect x="817.85" y="465.64" width="29.72" height="12.4" rx="1" fill="#e8a812"/><rect x="848.73" y="465.64" width="29.72" height="12.4" rx="1" fill="#e8a812"/><rect x="879.60" y="465.64" width="29.72" height="12.4" rx="1" fill="#e8a812"/><rect x="910.47" y="465.64" width="29.72" height="12.4" rx="1" fill="#e8a812"/><rect x="941.34" y="465.64" width="29.72" height="12.4" rx="1" fill="#e8a812"/><rect x="972.22" y="465.64" width="29.72" height="12.4" rx="1" fill="#e8a812"/><rect x="1003.09" y="465.64" width="29.72" height="12.4" rx="1" fill="#e8a812"/>
<text class="c" transform="translate(91.8,474.5) scale(.86,1)">1.20</text><text class="c" transform="translate(122.6,474.5) scale(.86,1)">1.28</text><text class="c" transform="translate(153.5,474.5) scale(.86,1)">1.36</text><text class="c" transform="translate(184.4,474.5) scale(.86,1)">1.44</text><text class="c" transform="translate(215.3,474.5) scale(.86,1)">1.53</text><text class="c" transform="translate(246.1,474.5) scale(.86,1)">1.61</text><text class="c" transform="translate(277.0,474.5) scale(.86,1)">1.69</text><text class="c" transform="translate(307.9,474.5) scale(.86,1)">1.77</text><text class="c" transform="translate(338.7,474.5) scale(.86,1)">1.85</text><text class="c" transform="translate(369.6,474.5) scale(.86,1)">1.94</text><text class="c" transform="translate(400.5,474.5) scale(.86,1)">2.02</text><text class="c" transform="translate(431.4,474.5) scale(.86,1)">2.10</text><text class="c" transform="translate(462.2,474.5) scale(.86,1)">2.18</text><text class="c" transform="translate(493.1,474.5) scale(.86,1)">2.26</text><text class="c" transform="translate(524.0,474.5) scale(.86,1)">2.35</text><text class="c" transform="translate(554.9,474.5) scale(.86,1)">2.43</text><text class="c" transform="translate(585.7,474.5) scale(.86,1)">2.51</text><text class="c" transform="translate(616.6,474.5) scale(.86,1)">2.59</text><text class="c" transform="translate(647.5,474.5) scale(.86,1)">2.67</text><text class="c" transform="translate(678.3,474.5) scale(.86,1)">2.75</text><text class="c" transform="translate(709.2,474.5) scale(.86,1)">2.84</text><text class="c" transform="translate(740.1,474.5) scale(.86,1)">2.92</text><text class="c" transform="translate(771.0,474.5) scale(.86,1)">3.00</text><text class="c" transform="translate(801.8,474.5) scale(.86,1)">3.08</text><text class="c" transform="translate(832.7,474.5) scale(.86,1)">3.16</text><text class="c" transform="translate(863.6,474.5) scale(.86,1)">3.25</text><text class="c" transform="translate(894.5,474.5) scale(.86,1)">3.33</text><text class="c" transform="translate(925.3,474.5) scale(.86,1)">3.41</text><text class="c" transform="translate(956.2,474.5) scale(.86,1)">3.49</text><text class="c" transform="translate(987.1,474.5) scale(.86,1)">3.57</text><text class="c" transform="translate(1018.0,474.5) scale(.86,1)">3.65</text>
<text class="h" transform="translate(63.3,489.0) scale(.87,1)">48</text>
<text class="h" transform="translate(1045.2,489.0) scale(.8,1)">9.0</text>
<rect x="76.90" y="479.59" width="29.72" height="12.4" rx="1" fill="#808284"/><rect x="107.77" y="479.59" width="29.72" height="12.4" rx="1" fill="#808284"/><rect x="138.65" y="479.59" width="29.72" height="12.4" rx="1" fill="#808284"/><rect x="169.52" y="479.59" width="29.72" height="12.4" rx="1" fill="#808284"/><rect x="200.39" y="479.59" width="29.72" height="12.4" rx="1" fill="#0a85c9"/><rect x="231.27" y="479.59" width="29.72" height="12.4" rx="1" fill="#0a85c9"/><rect x="262.14" y="479.59" width="29.72" height="12.4" rx="1" fill="#0a85c9"/><rect x="293.01" y="479.59" width="29.72" height="12.4" rx="1" fill="#0a85c9"/><rect x="323.88" y="479.59" width="29.72" height="12.4" rx="1" fill="#0a85c9"/><rect x="354.76" y="479.59" width="29.72" height="12.4" rx="1" fill="#0a85c9"/><rect x="385.63" y="479.59" width="29.72" height="12.4" rx="1" fill="#0a85c9"/><rect x="416.50" y="479.59" width="29.72" height="12.4" rx="1" fill="#0a85c9"/><rect x="447.38" y="479.59" width="29.72" height="12.4" rx="1" fill="#0a85c9"/><rect x="478.25" y="479.59" width="29.72" height="12.4" rx="1" fill="#62ba46"/><rect x="509.12" y="479.59" width="29.72" height="12.4" rx="1" fill="#62ba46"/><rect x="540.00" y="479.59" width="29.72" height="12.4" rx="1" fill="#62ba46"/><rect x="570.87" y="479.59" width="29.72" height="12.4" rx="1" fill="#62ba46"/><rect x="601.74" y="479.59" width="29.72" height="12.4" rx="1" fill="#62ba46"/><rect x="632.61" y="479.59" width="29.72" height="12.4" rx="1" fill="#e8a812"/><rect x="663.49" y="479.59" width="29.72" height="12.4" rx="1" fill="#e8a812"/><rect x="694.36" y="479.59" width="29.72" height="12.4" rx="1" fill="#e8a812"/><rect x="725.23" y="479.59" width="29.72" height="12.4" rx="1" fill="#e8a812"/><rect x="756.11" y="479.59" width="29.72" height="12.4" rx="1" fill="#e8a812"/><rect x="786.98" y="479.59" width="29.72" height="12.4" rx="1" fill="#e8a812"/><rect x="817.85" y="479.59" width="29.72" height="12.4" rx="1" fill="#e8a812"/><rect x="848.73" y="479.59" width="29.72" height="12.4" rx="1" fill="#e8a812"/><rect x="879.60" y="479.59" width="29.72" height="12.4" rx="1" fill="#e8a812"/><rect x="910.47" y="479.59" width="29.72" height="12.4" rx="1" fill="#e8a812"/><rect x="941.34" y="479.59" width="29.72" height="12.4" rx="1" fill="#e8a812"/><rect x="972.22" y="479.59" width="29.72" height="12.4" rx="1" fill="#e8a812"/><rect x="1003.09" y="479.59" width="29.72" height="12.4" rx="1" fill="#e8a812"/>
<text class="c" transform="translate(91.8,488.5) scale(.86,1)">1.18</text><text class="c" transform="translate(122.6,488.5) scale(.86,1)">1.26</text><text class="c" transform="translate(153.5,488.5) scale(.86,1)">1.34</text><text class="c" transform="translate(184.4,488.5) scale(.86,1)">1.42</text><text class="c" transform="translate(215.3,488.5) scale(.86,1)">1.50</text><text class="c" transform="translate(246.1,488.5) scale(.86,1)">1.58</text><text class="c" transform="translate(277.0,488.5) scale(.86,1)">1.66</text><text class="c" transform="translate(307.9,488.5) scale(.86,1)">1.74</text><text class="c" transform="translate(338.7,488.5) scale(.86,1)">1.82</text><text class="c" transform="translate(369.6,488.5) scale(.86,1)">1.90</text><text class="c" transform="translate(400.5,488.5) scale(.86,1)">1.98</text><text class="c" transform="translate(431.4,488.5) scale(.86,1)">2.06</text><text class="c" transform="translate(462.2,488.5) scale(.86,1)">2.14</text><text class="c" transform="translate(493.1,488.5) scale(.86,1)">2.22</text><text class="c" transform="translate(524.0,488.5) scale(.86,1)">2.30</text><text class="c" transform="translate(554.9,488.5) scale(.86,1)">2.38</text><text class="c" transform="translate(585.7,488.5) scale(.86,1)">2.46</text><text class="c" transform="translate(616.6,488.5) scale(.86,1)">2.54</text><text class="c" transform="translate(647.5,488.5) scale(.86,1)">2.62</text><text class="c" transform="translate(678.3,488.5) scale(.86,1)">2.71</text><text class="c" transform="translate(709.2,488.5) scale(.86,1)">2.79</text><text class="c" transform="translate(740.1,488.5) scale(.86,1)">2.87</text><text class="c" transform="translate(771.0,488.5) scale(.86,1)">2.95</text><text class="c" transform="translate(801.8,488.5) scale(.86,1)">3.03</text><text class="c" transform="translate(832.7,488.5) scale(.86,1)">3.11</text><text class="c" transform="translate(863.6,488.5) scale(.86,1)">3.19</text><text class="c" transform="translate(894.5,488.5) scale(.86,1)">3.27</text><text class="c" transform="translate(925.3,488.5) scale(.86,1)">3.35</text><text class="c" transform="translate(956.2,488.5) scale(.86,1)">3.43</text><text class="c" transform="translate(987.1,488.5) scale(.86,1)">3.51</text><text class="c" transform="translate(1018.0,488.5) scale(.86,1)">3.59</text>
<text class="h" transform="translate(63.3,502.9) scale(.87,1)">49</text>
<text class="h" transform="translate(1045.2,502.9) scale(.8,1)">9.5</text>
<rect x="76.90" y="493.53" width="29.72" height="12.4" rx="1" fill="#808284"/><rect x="107.77" y="493.53" width="29.72" height="12.4" rx="1" fill="#808284"/><rect x="138.65" y="493.53" width="29.72" height="12.4" rx="1" fill="#808284"/><rect x="169.52" y="493.53" width="29.72" height="12.4" rx="1" fill="#808284"/><rect x="200.39" y="493.53" width="29.72" height="12.4" rx="1" fill="#808284"/><rect x="231.27" y="493.53" width="29.72" height="12.4" rx="1" fill="#0a85c9"/><rect x="262.14" y="493.53" width="29.72" height="12.4" rx="1" fill="#0a85c9"/><rect x="293.01" y="493.53" width="29.72" height="12.4" rx="1" fill="#0a85c9"/><rect x="323.88" y="493.53" width="29.72" height="12.4" rx="1" fill="#0a85c9"/><rect x="354.76" y="493.53" width="29.72" height="12.4" rx="1" fill="#0a85c9"/><rect x="385.63" y="493.53" width="29.72" height="12.4" rx="1" fill="#0a85c9"/><rect x="416.50" y="493.53" width="29.72" height="12.4" rx="1" fill="#0a85c9"/><rect x="447.38" y="493.53" width="29.72" height="12.4" rx="1" fill="#0a85c9"/><rect x="478.25" y="493.53" width="29.72" height="12.4" rx="1" fill="#62ba46"/><rect x="509.12" y="493.53" width="29.72" height="12.4" rx="1" fill="#62ba46"/><rect x="540.00" y="493.53" width="29.72" height="12.4" rx="1" fill="#62ba46"/><rect x="570.87" y="493.53" width="29.72" height="12.4" rx="1" fill="#62ba46"/><rect x="601.74" y="493.53" width="29.72" height="12.4" rx="1" fill="#62ba46"/><rect x="632.61" y="493.53" width="29.72" height="12.4" rx="1" fill="#62ba46"/><rect x="663.49" y="493.53" width="29.72" height="12.4" rx="1" fill="#e8a812"/><rect x="694.36" y="493.53" width="29.72" height="12.4" rx="1" fill="#e8a812"/><rect x="725.23" y="493.53" width="29.72" height="12.4" rx="1" fill="#e8a812"/><rect x="756.11" y="493.53" width="29.72" height="12.4" rx="1" fill="#e8a812"/><rect x="786.98" y="493.53" width="29.72" height="12.4" rx="1" fill="#e8a812"/><rect x="817.85" y="493.53" width="29.72" height="12.4" rx="1" fill="#e8a812"/><rect x="848.73" y="493.53" width="29.72" height="12.4" rx="1" fill="#e8a812"/><rect x="879.60" y="493.53" width="29.72" height="12.4" rx="1" fill="#e8a812"/><rect x="910.47" y="493.53" width="29.72" height="12.4" rx="1" fill="#e8a812"/><rect x="941.34" y="493.53" width="29.72" height="12.4" rx="1" fill="#e8a812"/><rect x="972.22" y="493.53" width="29.72" height="12.4" rx="1" fill="#e8a812"/><rect x="1003.09" y="493.53" width="29.72" height="12.4" rx="1" fill="#e8a812"/>
<text class="c" transform="translate(91.8,502.4) scale(.86,1)">1.16</text><text class="c" transform="translate(122.6,502.4) scale(.86,1)">1.24</text><text class="c" transform="translate(153.5,502.4) scale(.86,1)">1.31</text><text class="c" transform="translate(184.4,502.4) scale(.86,1)">1.39</text><text class="c" transform="translate(215.3,502.4) scale(.86,1)">1.47</text><text class="c" transform="translate(246.1,502.4) scale(.86,1)">1.55</text><text class="c" transform="translate(277.0,502.4) scale(.86,1)">1.63</text><text class="c" transform="translate(307.9,502.4) scale(.86,1)">1.71</text><text class="c" transform="translate(338.7,502.4) scale(.86,1)">1.79</text><text class="c" transform="translate(369.6,502.4) scale(.86,1)">1.87</text><text class="c" transform="translate(400.5,502.4) scale(.86,1)">1.95</text><text class="c" transform="translate(431.4,502.4) scale(.86,1)">2.03</text><text class="c" transform="translate(462.2,502.4) scale(.86,1)">2.10</text><text class="c" transform="translate(493.1,502.4) scale(.86,1)">2.18</text><text class="c" transform="translate(524.0,502.4) scale(.86,1)">2.26</text><text class="c" transform="translate(554.9,502.4) scale(.86,1)">2.34</text><text class="c" transform="translate(585.7,502.4) scale(.86,1)">2.42</text><text class="c" transform="translate(616.6,502.4) scale(.86,1)">2.50</text><text class="c" transform="translate(647.5,502.4) scale(.86,1)">2.58</text><text class="c" transform="translate(678.3,502.4) scale(.86,1)">2.66</text><text class="c" transform="translate(709.2,502.4) scale(.86,1)">2.74</text><text class="c" transform="translate(740.1,502.4) scale(.86,1)">2.82</text><text class="c" transform="translate(771.0,502.4) scale(.86,1)">2.89</text><text class="c" transform="translate(801.8,502.4) scale(.86,1)">2.97</text><text class="c" transform="translate(832.7,502.4) scale(.86,1)">3.05</text><text class="c" transform="translate(863.6,502.4) scale(.86,1)">3.13</text><text class="c" transform="translate(894.5,502.4) scale(.86,1)">3.21</text><text class="c" transform="translate(925.3,502.4) scale(.86,1)">3.29</text><text class="c" transform="translate(956.2,502.4) scale(.86,1)">3.37</text><text class="c" transform="translate(987.1,502.4) scale(.86,1)">3.45</text><text class="c" transform="translate(1018.0,502.4) scale(.86,1)">3.53</text>
<text class="h" transform="translate(63.3,516.9) scale(.87,1)">50</text>
<text class="h" transform="translate(1045.2,516.9) scale(.8,1)">10</text>
<rect x="76.90" y="507.47" width="29.72" height="12.4" rx="1" fill="#808284"/><rect x="107.77" y="507.47" width="29.72" height="12.4" rx="1" fill="#808284"/><rect x="138.65" y="507.47" width="29.72" height="12.4" rx="1" fill="#808284"/><rect x="169.52" y="507.47" width="29.72" height="12.4" rx="1" fill="#808284"/><rect x="200.39" y="507.47" width="29.72" height="12.4" rx="1" fill="#808284"/><rect x="231.27" y="507.47" width="29.72" height="12.4" rx="1" fill="#0a85c9"/><rect x="262.14" y="507.47" width="29.72" height="12.4" rx="1" fill="#0a85c9"/><rect x="293.01" y="507.47" width="29.72" height="12.4" rx="1" fill="#0a85c9"/><rect x="323.88" y="507.47" width="29.72" height="12.4" rx="1" fill="#0a85c9"/><rect x="354.76" y="507.47" width="29.72" height="12.4" rx="1" fill="#0a85c9"/><rect x="385.63" y="507.47" width="29.72" height="12.4" rx="1" fill="#0a85c9"/><rect x="416.50" y="507.47" width="29.72" height="12.4" rx="1" fill="#0a85c9"/><rect x="447.38" y="507.47" width="29.72" height="12.4" rx="1" fill="#0a85c9"/><rect x="478.25" y="507.47" width="29.72" height="12.4" rx="1" fill="#0a85c9"/><rect x="509.12" y="507.47" width="29.72" height="12.4" rx="1" fill="#62ba46"/><rect x="540.00" y="507.47" width="29.72" height="12.4" rx="1" fill="#62ba46"/><rect x="570.87" y="507.47" width="29.72" height="12.4" rx="1" fill="#62ba46"/><rect x="601.74" y="507.47" width="29.72" height="12.4" rx="1" fill="#62ba46"/><rect x="632.61" y="507.47" width="29.72" height="12.4" rx="1" fill="#62ba46"/><rect x="663.49" y="507.47" width="29.72" height="12.4" rx="1" fill="#e8a812"/><rect x="694.36" y="507.47" width="29.72" height="12.4" rx="1" fill="#e8a812"/><rect x="725.23" y="507.47" width="29.72" height="12.4" rx="1" fill="#e8a812"/><rect x="756.11" y="507.47" width="29.72" height="12.4" rx="1" fill="#e8a812"/><rect x="786.98" y="507.47" width="29.72" height="12.4" rx="1" fill="#e8a812"/><rect x="817.85" y="507.47" width="29.72" height="12.4" rx="1" fill="#e8a812"/><rect x="848.73" y="507.47" width="29.72" height="12.4" rx="1" fill="#e8a812"/><rect x="879.60" y="507.47" width="29.72" height="12.4" rx="1" fill="#e8a812"/><rect x="910.47" y="507.47" width="29.72" height="12.4" rx="1" fill="#e8a812"/><rect x="941.34" y="507.47" width="29.72" height="12.4" rx="1" fill="#e8a812"/><rect x="972.22" y="507.47" width="29.72" height="12.4" rx="1" fill="#e8a812"/><rect x="1003.09" y="507.47" width="29.72" height="12.4" rx="1" fill="#e8a812"/>
<text class="c" transform="translate(91.8,516.4) scale(.86,1)">1.14</text><text class="c" transform="translate(122.6,516.4) scale(.86,1)">1.21</text><text class="c" transform="translate(153.5,516.4) scale(.86,1)">1.29</text><text class="c" transform="translate(184.4,516.4) scale(.86,1)">1.37</text><text class="c" transform="translate(215.3,516.4) scale(.86,1)">1.45</text><text class="c" transform="translate(246.1,516.4) scale(.86,1)">1.52</text><text class="c" transform="translate(277.0,516.4) scale(.86,1)">1.60</text><text class="c" transform="translate(307.9,516.4) scale(.86,1)">1.68</text><text class="c" transform="translate(338.7,516.4) scale(.86,1)">1.76</text><text class="c" transform="translate(369.6,516.4) scale(.86,1)">1.83</text><text class="c" transform="translate(400.5,516.4) scale(.86,1)">1.91</text><text class="c" transform="translate(431.4,516.4) scale(.86,1)">1.99</text><text class="c" transform="translate(462.2,516.4) scale(.86,1)">2.07</text><text class="c" transform="translate(493.1,516.4) scale(.86,1)">2.14</text><text class="c" transform="translate(524.0,516.4) scale(.86,1)">2.22</text><text class="c" transform="translate(554.9,516.4) scale(.86,1)">2.30</text><text class="c" transform="translate(585.7,516.4) scale(.86,1)">2.38</text><text class="c" transform="translate(616.6,516.4) scale(.86,1)">2.46</text><text class="c" transform="translate(647.5,516.4) scale(.86,1)">2.53</text><text class="c" transform="translate(678.3,516.4) scale(.86,1)">2.61</text><text class="c" transform="translate(709.2,516.4) scale(.86,1)">2.69</text><text class="c" transform="translate(740.1,516.4) scale(.86,1)">2.77</text><text class="c" transform="translate(771.0,516.4) scale(.86,1)">2.84</text><text class="c" transform="translate(801.8,516.4) scale(.86,1)">2.92</text><text class="c" transform="translate(832.7,516.4) scale(.86,1)">3.00</text><text class="c" transform="translate(863.6,516.4) scale(.86,1)">3.08</text><text class="c" transform="translate(894.5,516.4) scale(.86,1)">3.15</text><text class="c" transform="translate(925.3,516.4) scale(.86,1)">3.23</text><text class="c" transform="translate(956.2,516.4) scale(.86,1)">3.31</text><text class="c" transform="translate(987.1,516.4) scale(.86,1)">3.39</text><text class="c" transform="translate(1018.0,516.4) scale(.86,1)">3.46</text>
<text class="h" transform="translate(63.3,530.8) scale(.87,1)">51</text>
<text class="h" transform="translate(1045.2,530.8) scale(.8,1)">10.5</text>
<rect x="76.90" y="521.42" width="29.72" height="12.4" rx="1" fill="#808284"/><rect x="107.77" y="521.42" width="29.72" height="12.4" rx="1" fill="#808284"/><rect x="138.65" y="521.42" width="29.72" height="12.4" rx="1" fill="#808284"/><rect x="169.52" y="521.42" width="29.72" height="12.4" rx="1" fill="#808284"/><rect x="200.39" y="521.42" width="29.72" height="12.4" rx="1" fill="#808284"/><rect x="231.27" y="521.42" width="29.72" height="12.4" rx="1" fill="#0a85c9"/><rect x="262.14" y="521.42" width="29.72" height="12.4" rx="1" fill="#0a85c9"/><rect x="293.01" y="521.42" width="29.72" height="12.4" rx="1" fill="#0a85c9"/><rect x="323.88" y="521.42" width="29.72" height="12.4" rx="1" fill="#0a85c9"/><rect x="354.76" y="521.42" width="29.72" height="12.4" rx="1" fill="#0a85c9"/><rect x="385.63" y="521.42" width="29.72" height="12.4" rx="1" fill="#0a85c9"/><rect x="416.50" y="521.42" width="29.72" height="12.4" rx="1" fill="#0a85c9"/><rect x="447.38" y="521.42" width="29.72" height="12.4" rx="1" fill="#0a85c9"/><rect x="478.25" y="521.42" width="29.72" height="12.4" rx="1" fill="#0a85c9"/><rect x="509.12" y="521.42" width="29.72" height="12.4" rx="1" fill="#62ba46"/><rect x="540.00" y="521.42" width="29.72" height="12.4" rx="1" fill="#62ba46"/><rect x="570.87" y="521.42" width="29.72" height="12.4" rx="1" fill="#62ba46"/><rect x="601.74" y="521.42" width="29.72" height="12.4" rx="1" fill="#62ba46"/><rect x="632.61" y="521.42" width="29.72" height="12.4" rx="1" fill="#62ba46"/><rect x="663.49" y="521.42" width="29.72" height="12.4" rx="1" fill="#62ba46"/><rect x="694.36" y="521.42" width="29.72" height="12.4" rx="1" fill="#e8a812"/><rect x="725.23" y="521.42" width="29.72" height="12.4" rx="1" fill="#e8a812"/><rect x="756.11" y="521.42" width="29.72" height="12.4" rx="1" fill="#e8a812"/><rect x="786.98" y="521.42" width="29.72" height="12.4" rx="1" fill="#e8a812"/><rect x="817.85" y="521.42" width="29.72" height="12.4" rx="1" fill="#e8a812"/><rect x="848.73" y="521.42" width="29.72" height="12.4" rx="1" fill="#e8a812"/><rect x="879.60" y="521.42" width="29.72" height="12.4" rx="1" fill="#e8a812"/><rect x="910.47" y="521.42" width="29.72" height="12.4" rx="1" fill="#e8a812"/><rect x="941.34" y="521.42" width="29.72" height="12.4" rx="1" fill="#e8a812"/><rect x="972.22" y="521.42" width="29.72" height="12.4" rx="1" fill="#e8a812"/><rect x="1003.09" y="521.42" width="29.72" height="12.4" rx="1" fill="#e8a812"/>
<text class="c" transform="translate(91.8,530.3) scale(.86,1)">1.12</text><text class="c" transform="translate(122.6,530.3) scale(.86,1)">1.19</text><text class="c" transform="translate(153.5,530.3) scale(.86,1)">1.27</text><text class="c" transform="translate(184.4,530.3) scale(.86,1)">1.35</text><text class="c" transform="translate(215.3,530.3) scale(.86,1)">1.42</text><text class="c" transform="translate(246.1,530.3) scale(.86,1)">1.50</text><text class="c" transform="translate(277.0,530.3) scale(.86,1)">1.57</text><text class="c" transform="translate(307.9,530.3) scale(.86,1)">1.65</text><text class="c" transform="translate(338.7,530.3) scale(.86,1)">1.73</text><text class="c" transform="translate(369.6,530.3) scale(.86,1)">1.80</text><text class="c" transform="translate(400.5,530.3) scale(.86,1)">1.88</text><text class="c" transform="translate(431.4,530.3) scale(.86,1)">1.95</text><text class="c" transform="translate(462.2,530.3) scale(.86,1)">2.03</text><text class="c" transform="translate(493.1,530.3) scale(.86,1)">2.11</text><text class="c" transform="translate(524.0,530.3) scale(.86,1)">2.18</text><text class="c" transform="translate(554.9,530.3) scale(.86,1)">2.26</text><text class="c" transform="translate(585.7,530.3) scale(.86,1)">2.34</text><text class="c" transform="translate(616.6,530.3) scale(.86,1)">2.41</text><text class="c" transform="translate(647.5,530.3) scale(.86,1)">2.49</text><text class="c" transform="translate(678.3,530.3) scale(.86,1)">2.56</text><text class="c" transform="translate(709.2,530.3) scale(.86,1)">2.64</text><text class="c" transform="translate(740.1,530.3) scale(.86,1)">2.72</text><text class="c" transform="translate(771.0,530.3) scale(.86,1)">2.79</text><text class="c" transform="translate(801.8,530.3) scale(.86,1)">2.87</text><text class="c" transform="translate(832.7,530.3) scale(.86,1)">2.95</text><text class="c" transform="translate(863.6,530.3) scale(.86,1)">3.02</text><text class="c" transform="translate(894.5,530.3) scale(.86,1)">3.10</text><text class="c" transform="translate(925.3,530.3) scale(.86,1)">3.17</text><text class="c" transform="translate(956.2,530.3) scale(.86,1)">3.25</text><text class="c" transform="translate(987.1,530.3) scale(.86,1)">3.33</text><text class="c" transform="translate(1018.0,530.3) scale(.86,1)">3.40</text>
<text class="h" transform="translate(63.3,544.8) scale(.87,1)">52</text>
<text class="h" transform="translate(1045.2,544.8) scale(.8,1)">11.0</text>
<rect x="76.90" y="535.36" width="29.72" height="12.4" rx="1" fill="#808284"/><rect x="107.77" y="535.36" width="29.72" height="12.4" rx="1" fill="#808284"/><rect x="138.65" y="535.36" width="29.72" height="12.4" rx="1" fill="#808284"/><rect x="169.52" y="535.36" width="29.72" height="12.4" rx="1" fill="#808284"/><rect x="200.39" y="535.36" width="29.72" height="12.4" rx="1" fill="#808284"/><rect x="231.27" y="535.36" width="29.72" height="12.4" rx="1" fill="#808284"/><rect x="262.14" y="535.36" width="29.72" height="12.4" rx="1" fill="#0a85c9"/><rect x="293.01" y="535.36" width="29.72" height="12.4" rx="1" fill="#0a85c9"/><rect x="323.88" y="535.36" width="29.72" height="12.4" rx="1" fill="#0a85c9"/><rect x="354.76" y="535.36" width="29.72" height="12.4" rx="1" fill="#0a85c9"/><rect x="385.63" y="535.36" width="29.72" height="12.4" rx="1" fill="#0a85c9"/><rect x="416.50" y="535.36" width="29.72" height="12.4" rx="1" fill="#0a85c9"/><rect x="447.38" y="535.36" width="29.72" height="12.4" rx="1" fill="#0a85c9"/><rect x="478.25" y="535.36" width="29.72" height="12.4" rx="1" fill="#0a85c9"/><rect x="509.12" y="535.36" width="29.72" height="12.4" rx="1" fill="#0a85c9"/><rect x="540.00" y="535.36" width="29.72" height="12.4" rx="1" fill="#62ba46"/><rect x="570.87" y="535.36" width="29.72" height="12.4" rx="1" fill="#62ba46"/><rect x="601.74" y="535.36" width="29.72" height="12.4" rx="1" fill="#62ba46"/><rect x="632.61" y="535.36" width="29.72" height="12.4" rx="1" fill="#62ba46"/><rect x="663.49" y="535.36" width="29.72" height="12.4" rx="1" fill="#62ba46"/><rect x="694.36" y="535.36" width="29.72" height="12.4" rx="1" fill="#62ba46"/><rect x="725.23" y="535.36" width="29.72" height="12.4" rx="1" fill="#e8a812"/><rect x="756.11" y="535.36" width="29.72" height="12.4" rx="1" fill="#e8a812"/><rect x="786.98" y="535.36" width="29.72" height="12.4" rx="1" fill="#e8a812"/><rect x="817.85" y="535.36" width="29.72" height="12.4" rx="1" fill="#e8a812"/><rect x="848.73" y="535.36" width="29.72" height="12.4" rx="1" fill="#e8a812"/><rect x="879.60" y="535.36" width="29.72" height="12.4" rx="1" fill="#e8a812"/><rect x="910.47" y="535.36" width="29.72" height="12.4" rx="1" fill="#e8a812"/><rect x="941.34" y="535.36" width="29.72" height="12.4" rx="1" fill="#e8a812"/><rect x="972.22" y="535.36" width="29.72" height="12.4" rx="1" fill="#e8a812"/><rect x="1003.09" y="535.36" width="29.72" height="12.4" rx="1" fill="#e8a812"/>
<text class="c" transform="translate(91.8,544.3) scale(.86,1)">1.10</text><text class="c" transform="translate(122.6,544.3) scale(.86,1)">1.17</text><text class="c" transform="translate(153.5,544.3) scale(.86,1)">1.25</text><text class="c" transform="translate(184.4,544.3) scale(.86,1)">1.32</text><text class="c" transform="translate(215.3,544.3) scale(.86,1)">1.40</text><text class="c" transform="translate(246.1,544.3) scale(.86,1)">1.47</text><text class="c" transform="translate(277.0,544.3) scale(.86,1)">1.55</text><text class="c" transform="translate(307.9,544.3) scale(.86,1)">1.62</text><text class="c" transform="translate(338.7,544.3) scale(.86,1)">1.70</text><text class="c" transform="translate(369.6,544.3) scale(.86,1)">1.77</text><text class="c" transform="translate(400.5,544.3) scale(.86,1)">1.85</text><text class="c" transform="translate(431.4,544.3) scale(.86,1)">1.92</text><text class="c" transform="translate(462.2,544.3) scale(.86,1)">2.00</text><text class="c" transform="translate(493.1,544.3) scale(.86,1)">2.07</text><text class="c" transform="translate(524.0,544.3) scale(.86,1)">2.15</text><text class="c" transform="translate(554.9,544.3) scale(.86,1)">2.22</text><text class="c" transform="translate(585.7,544.3) scale(.86,1)">2.29</text><text class="c" transform="translate(616.6,544.3) scale(.86,1)">2.37</text><text class="c" transform="translate(647.5,544.3) scale(.86,1)">2.44</text><text class="c" transform="translate(678.3,544.3) scale(.86,1)">2.52</text><text class="c" transform="translate(709.2,544.3) scale(.86,1)">2.59</text><text class="c" transform="translate(740.1,544.3) scale(.86,1)">2.67</text><text class="c" transform="translate(771.0,544.3) scale(.86,1)">2.74</text><text class="c" transform="translate(801.8,544.3) scale(.86,1)">2.82</text><text class="c" transform="translate(832.7,544.3) scale(.86,1)">2.89</text><text class="c" transform="translate(863.6,544.3) scale(.86,1)">2.97</text><text class="c" transform="translate(894.5,544.3) scale(.86,1)">3.04</text><text class="c" transform="translate(925.3,544.3) scale(.86,1)">3.12</text><text class="c" transform="translate(956.2,544.3) scale(.86,1)">3.19</text><text class="c" transform="translate(987.1,544.3) scale(.86,1)">3.27</text><text class="c" transform="translate(1018.0,544.3) scale(.86,1)">3.34</text>
<text class="h" transform="translate(63.3,558.7) scale(.87,1)">53</text>
<text class="h" transform="translate(1045.2,558.7) scale(.8,1)">11.5</text>
<rect x="76.90" y="549.30" width="29.72" height="12.4" rx="1" fill="#808284"/><rect x="107.77" y="549.30" width="29.72" height="12.4" rx="1" fill="#808284"/><rect x="138.65" y="549.30" width="29.72" height="12.4" rx="1" fill="#808284"/><rect x="169.52" y="549.30" width="29.72" height="12.4" rx="1" fill="#808284"/><rect x="200.39" y="549.30" width="29.72" height="12.4" rx="1" fill="#808284"/><rect x="231.27" y="549.30" width="29.72" height="12.4" rx="1" fill="#808284"/><rect x="262.14" y="549.30" width="29.72" height="12.4" rx="1" fill="#0a85c9"/><rect x="293.01" y="549.30" width="29.72" height="12.4" rx="1" fill="#0a85c9"/><rect x="323.88" y="549.30" width="29.72" height="12.4" rx="1" fill="#0a85c9"/><rect x="354.76" y="549.30" width="29.72" height="12.4" rx="1" fill="#0a85c9"/><rect x="385.63" y="549.30" width="29.72" height="12.4" rx="1" fill="#0a85c9"/><rect x="416.50" y="549.30" width="29.72" height="12.4" rx="1" fill="#0a85c9"/><rect x="447.38" y="549.30" width="29.72" height="12.4" rx="1" fill="#0a85c9"/><rect x="478.25" y="549.30" width="29.72" height="12.4" rx="1" fill="#0a85c9"/><rect x="509.12" y="549.30" width="29.72" height="12.4" rx="1" fill="#0a85c9"/><rect x="540.00" y="549.30" width="29.72" height="12.4" rx="1" fill="#62ba46"/><rect x="570.87" y="549.30" width="29.72" height="12.4" rx="1" fill="#62ba46"/><rect x="601.74" y="549.30" width="29.72" height="12.4" rx="1" fill="#62ba46"/><rect x="632.61" y="549.30" width="29.72" height="12.4" rx="1" fill="#62ba46"/><rect x="663.49" y="549.30" width="29.72" height="12.4" rx="1" fill="#62ba46"/><rect x="694.36" y="549.30" width="29.72" height="12.4" rx="1" fill="#62ba46"/><rect x="725.23" y="549.30" width="29.72" height="12.4" rx="1" fill="#e8a812"/><rect x="756.11" y="549.30" width="29.72" height="12.4" rx="1" fill="#e8a812"/><rect x="786.98" y="549.30" width="29.72" height="12.4" rx="1" fill="#e8a812"/><rect x="817.85" y="549.30" width="29.72" height="12.4" rx="1" fill="#e8a812"/><rect x="848.73" y="549.30" width="29.72" height="12.4" rx="1" fill="#e8a812"/><rect x="879.60" y="549.30" width="29.72" height="12.4" rx="1" fill="#e8a812"/><rect x="910.47" y="549.30" width="29.72" height="12.4" rx="1" fill="#e8a812"/><rect x="941.34" y="549.30" width="29.72" height="12.4" rx="1" fill="#e8a812"/><rect x="972.22" y="549.30" width="29.72" height="12.4" rx="1" fill="#e8a812"/><rect x="1003.09" y="549.30" width="29.72" height="12.4" rx="1" fill="#e8a812"/>
<text class="c" transform="translate(91.8,558.2) scale(.86,1)">1.08</text><text class="c" transform="translate(122.6,558.2) scale(.86,1)">1.15</text><text class="c" transform="translate(153.5,558.2) scale(.86,1)">1.23</text><text class="c" transform="translate(184.4,558.2) scale(.86,1)">1.30</text><text class="c" transform="translate(215.3,558.2) scale(.86,1)">1.37</text><text class="c" transform="translate(246.1,558.2) scale(.86,1)">1.45</text><text class="c" transform="translate(277.0,558.2) scale(.86,1)">1.52</text><text class="c" transform="translate(307.9,558.2) scale(.86,1)">1.59</text><text class="c" transform="translate(338.7,558.2) scale(.86,1)">1.67</text><text class="c" transform="translate(369.6,558.2) scale(.86,1)">1.74</text><text class="c" transform="translate(400.5,558.2) scale(.86,1)">1.81</text><text class="c" transform="translate(431.4,558.2) scale(.86,1)">1.89</text><text class="c" transform="translate(462.2,558.2) scale(.86,1)">1.96</text><text class="c" transform="translate(493.1,558.2) scale(.86,1)">2.03</text><text class="c" transform="translate(524.0,558.2) scale(.86,1)">2.11</text><text class="c" transform="translate(554.9,558.2) scale(.86,1)">2.18</text><text class="c" transform="translate(585.7,558.2) scale(.86,1)">2.26</text><text class="c" transform="translate(616.6,558.2) scale(.86,1)">2.33</text><text class="c" transform="translate(647.5,558.2) scale(.86,1)">2.40</text><text class="c" transform="translate(678.3,558.2) scale(.86,1)">2.48</text><text class="c" transform="translate(709.2,558.2) scale(.86,1)">2.55</text><text class="c" transform="translate(740.1,558.2) scale(.86,1)">2.62</text><text class="c" transform="translate(771.0,558.2) scale(.86,1)">2.70</text><text class="c" transform="translate(801.8,558.2) scale(.86,1)">2.77</text><text class="c" transform="translate(832.7,558.2) scale(.86,1)">2.84</text><text class="c" transform="translate(863.6,558.2) scale(.86,1)">2.92</text><text class="c" transform="translate(894.5,558.2) scale(.86,1)">2.99</text><text class="c" transform="translate(925.3,558.2) scale(.86,1)">3.06</text><text class="c" transform="translate(956.2,558.2) scale(.86,1)">3.14</text><text class="c" transform="translate(987.1,558.2) scale(.86,1)">3.21</text><text class="c" transform="translate(1018.0,558.2) scale(.86,1)">3.29</text>
<text class="h" transform="translate(63.3,572.6) scale(.87,1)">54</text>
<text class="h" transform="translate(1045.2,572.6) scale(.8,1)">12.0</text>
<rect x="76.90" y="563.25" width="29.72" height="12.4" rx="1" fill="#808284"/><rect x="107.77" y="563.25" width="29.72" height="12.4" rx="1" fill="#808284"/><rect x="138.65" y="563.25" width="29.72" height="12.4" rx="1" fill="#808284"/><rect x="169.52" y="563.25" width="29.72" height="12.4" rx="1" fill="#808284"/><rect x="200.39" y="563.25" width="29.72" height="12.4" rx="1" fill="#808284"/><rect x="231.27" y="563.25" width="29.72" height="12.4" rx="1" fill="#808284"/><rect x="262.14" y="563.25" width="29.72" height="12.4" rx="1" fill="#0a85c9"/><rect x="293.01" y="563.25" width="29.72" height="12.4" rx="1" fill="#0a85c9"/><rect x="323.88" y="563.25" width="29.72" height="12.4" rx="1" fill="#0a85c9"/><rect x="354.76" y="563.25" width="29.72" height="12.4" rx="1" fill="#0a85c9"/><rect x="385.63" y="563.25" width="29.72" height="12.4" rx="1" fill="#0a85c9"/><rect x="416.50" y="563.25" width="29.72" height="12.4" rx="1" fill="#0a85c9"/><rect x="447.38" y="563.25" width="29.72" height="12.4" rx="1" fill="#0a85c9"/><rect x="478.25" y="563.25" width="29.72" height="12.4" rx="1" fill="#0a85c9"/><rect x="509.12" y="563.25" width="29.72" height="12.4" rx="1" fill="#0a85c9"/><rect x="540.00" y="563.25" width="29.72" height="12.4" rx="1" fill="#0a85c9"/><rect x="570.87" y="563.25" width="29.72" height="12.4" rx="1" fill="#62ba46"/><rect x="601.74" y="563.25" width="29.72" height="12.4" rx="1" fill="#62ba46"/><rect x="632.61" y="563.25" width="29.72" height="12.4" rx="1" fill="#62ba46"/><rect x="663.49" y="563.25" width="29.72" height="12.4" rx="1" fill="#62ba46"/><rect x="694.36" y="563.25" width="29.72" height="12.4" rx="1" fill="#62ba46"/><rect x="725.23" y="563.25" width="29.72" height="12.4" rx="1" fill="#62ba46"/><rect x="756.11" y="563.25" width="29.72" height="12.4" rx="1" fill="#e8a812"/><rect x="786.98" y="563.25" width="29.72" height="12.4" rx="1" fill="#e8a812"/><rect x="817.85" y="563.25" width="29.72" height="12.4" rx="1" fill="#e8a812"/><rect x="848.73" y="563.25" width="29.72" height="12.4" rx="1" fill="#e8a812"/><rect x="879.60" y="563.25" width="29.72" height="12.4" rx="1" fill="#e8a812"/><rect x="910.47" y="563.25" width="29.72" height="12.4" rx="1" fill="#e8a812"/><rect x="941.34" y="563.25" width="29.72" height="12.4" rx="1" fill="#e8a812"/><rect x="972.22" y="563.25" width="29.72" height="12.4" rx="1" fill="#e8a812"/><rect x="1003.09" y="563.25" width="29.72" height="12.4" rx="1" fill="#e8a812"/>
<text class="c" transform="translate(91.8,572.1) scale(.86,1)">1.06</text><text class="c" transform="translate(122.6,572.1) scale(.86,1)">1.13</text><text class="c" transform="translate(153.5,572.1) scale(.86,1)">1.20</text><text class="c" transform="translate(184.4,572.1) scale(.86,1)">1.28</text><text class="c" transform="translate(215.3,572.1) scale(.86,1)">1.35</text><text class="c" transform="translate(246.1,572.1) scale(.86,1)">1.42</text><text class="c" transform="translate(277.0,572.1) scale(.86,1)">1.49</text><text class="c" transform="translate(307.9,572.1) scale(.86,1)">1.57</text><text class="c" transform="translate(338.7,572.1) scale(.86,1)">1.64</text><text class="c" transform="translate(369.6,572.1) scale(.86,1)">1.71</text><text class="c" transform="translate(400.5,572.1) scale(.86,1)">1.78</text><text class="c" transform="translate(431.4,572.1) scale(.86,1)">1.85</text><text class="c" transform="translate(462.2,572.1) scale(.86,1)">1.93</text><text class="c" transform="translate(493.1,572.1) scale(.86,1)">2.00</text><text class="c" transform="translate(524.0,572.1) scale(.86,1)">2.07</text><text class="c" transform="translate(554.9,572.1) scale(.86,1)">2.14</text><text class="c" transform="translate(585.7,572.1) scale(.86,1)">2.22</text><text class="c" transform="translate(616.6,572.1) scale(.86,1)">2.29</text><text class="c" transform="translate(647.5,572.1) scale(.86,1)">2.36</text><text class="c" transform="translate(678.3,572.1) scale(.86,1)">2.43</text><text class="c" transform="translate(709.2,572.1) scale(.86,1)">2.51</text><text class="c" transform="translate(740.1,572.1) scale(.86,1)">2.58</text><text class="c" transform="translate(771.0,572.1) scale(.86,1)">2.65</text><text class="c" transform="translate(801.8,572.1) scale(.86,1)">2.72</text><text class="c" transform="translate(832.7,572.1) scale(.86,1)">2.79</text><text class="c" transform="translate(863.6,572.1) scale(.86,1)">2.87</text><text class="c" transform="translate(894.5,572.1) scale(.86,1)">2.94</text><text class="c" transform="translate(925.3,572.1) scale(.86,1)">3.01</text><text class="c" transform="translate(956.2,572.1) scale(.86,1)">3.08</text><text class="c" transform="translate(987.1,572.1) scale(.86,1)">3.16</text><text class="c" transform="translate(1018.0,572.1) scale(.86,1)">3.23</text>
<text class="h" transform="translate(63.3,586.6) scale(.87,1)">55</text>
<text class="h" transform="translate(1045.2,586.6) scale(.8,1)">13.0</text>
<rect x="76.90" y="577.19" width="29.72" height="12.4" rx="1" fill="#808284"/><rect x="107.77" y="577.19" width="29.72" height="12.4" rx="1" fill="#808284"/><rect x="138.65" y="577.19" width="29.72" height="12.4" rx="1" fill="#808284"/><rect x="169.52" y="577.19" width="29.72" height="12.4" rx="1" fill="#808284"/><rect x="200.39" y="577.19" width="29.72" height="12.4" rx="1" fill="#808284"/><rect x="231.27" y="577.19" width="29.72" height="12.4" rx="1" fill="#808284"/><rect x="262.14" y="577.19" width="29.72" height="12.4" rx="1" fill="#808284"/><rect x="293.01" y="577.19" width="29.72" height="12.4" rx="1" fill="#0a85c9"/><rect x="323.88" y="577.19" width="29.72" height="12.4" rx="1" fill="#0a85c9"/><rect x="354.76" y="577.19" width="29.72" height="12.4" rx="1" fill="#0a85c9"/><rect x="385.63" y="577.19" width="29.72" height="12.4" rx="1" fill="#0a85c9"/><rect x="416.50" y="577.19" width="29.72" height="12.4" rx="1" fill="#0a85c9"/><rect x="447.38" y="577.19" width="29.72" height="12.4" rx="1" fill="#0a85c9"/><rect x="478.25" y="577.19" width="29.72" height="12.4" rx="1" fill="#0a85c9"/><rect x="509.12" y="577.19" width="29.72" height="12.4" rx="1" fill="#0a85c9"/><rect x="540.00" y="577.19" width="29.72" height="12.4" rx="1" fill="#0a85c9"/><rect x="570.87" y="577.19" width="29.72" height="12.4" rx="1" fill="#62ba46"/><rect x="601.74" y="577.19" width="29.72" height="12.4" rx="1" fill="#62ba46"/><rect x="632.61" y="577.19" width="29.72" height="12.4" rx="1" fill="#62ba46"/><rect x="663.49" y="577.19" width="29.72" height="12.4" rx="1" fill="#62ba46"/><rect x="694.36" y="577.19" width="29.72" height="12.4" rx="1" fill="#62ba46"/><rect x="725.23" y="577.19" width="29.72" height="12.4" rx="1" fill="#62ba46"/><rect x="756.11" y="577.19" width="29.72" height="12.4" rx="1" fill="#e8a812"/><rect x="786.98" y="577.19" width="29.72" height="12.4" rx="1" fill="#e8a812"/><rect x="817.85" y="577.19" width="29.72" height="12.4" rx="1" fill="#e8a812"/><rect x="848.73" y="577.19" width="29.72" height="12.4" rx="1" fill="#e8a812"/><rect x="879.60" y="577.19" width="29.72" height="12.4" rx="1" fill="#e8a812"/><rect x="910.47" y="577.19" width="29.72" height="12.4" rx="1" fill="#e8a812"/><rect x="941.34" y="577.19" width="29.72" height="12.4" rx="1" fill="#e8a812"/><rect x="972.22" y="577.19" width="29.72" height="12.4" rx="1" fill="#e8a812"/><rect x="1003.09" y="577.19" width="29.72" height="12.4" rx="1" fill="#e8a812"/>
<text class="c" transform="translate(91.8,586.1) scale(.86,1)">1.04</text><text class="c" transform="translate(122.6,586.1) scale(.86,1)">1.11</text><text class="c" transform="translate(153.5,586.1) scale(.86,1)">1.18</text><text class="c" transform="translate(184.4,586.1) scale(.86,1)">1.25</text><text class="c" transform="translate(215.3,586.1) scale(.86,1)">1.33</text><text class="c" transform="translate(246.1,586.1) scale(.86,1)">1.40</text><text class="c" transform="translate(277.0,586.1) scale(.86,1)">1.47</text><text class="c" transform="translate(307.9,586.1) scale(.86,1)">1.54</text><text class="c" transform="translate(338.7,586.1) scale(.86,1)">1.61</text><text class="c" transform="translate(369.6,586.1) scale(.86,1)">1.68</text><text class="c" transform="translate(400.5,586.1) scale(.86,1)">1.75</text><text class="c" transform="translate(431.4,586.1) scale(.86,1)">1.82</text><text class="c" transform="translate(462.2,586.1) scale(.86,1)">1.89</text><text class="c" transform="translate(493.1,586.1) scale(.86,1)">1.96</text><text class="c" transform="translate(524.0,586.1) scale(.86,1)">2.04</text><text class="c" transform="translate(554.9,586.1) scale(.86,1)">2.11</text><text class="c" transform="translate(585.7,586.1) scale(.86,1)">2.18</text><text class="c" transform="translate(616.6,586.1) scale(.86,1)">2.24</text><text class="c" transform="translate(647.5,586.1) scale(.86,1)">2.32</text><text class="c" transform="translate(678.3,586.1) scale(.86,1)">2.39</text><text class="c" transform="translate(709.2,586.1) scale(.86,1)">2.46</text><text class="c" transform="translate(740.1,586.1) scale(.86,1)">2.53</text><text class="c" transform="translate(771.0,586.1) scale(.86,1)">2.60</text><text class="c" transform="translate(801.8,586.1) scale(.86,1)">2.68</text><text class="c" transform="translate(832.7,586.1) scale(.86,1)">2.75</text><text class="c" transform="translate(863.6,586.1) scale(.86,1)">2.82</text><text class="c" transform="translate(894.5,586.1) scale(.86,1)">2.89</text><text class="c" transform="translate(925.3,586.1) scale(.86,1)">2.96</text><text class="c" transform="translate(956.2,586.1) scale(.86,1)">3.03</text><text class="c" transform="translate(987.1,586.1) scale(.86,1)">3.10</text><text class="c" transform="translate(1018.0,586.1) scale(.86,1)">3.17</text>
<text class="h" transform="translate(63.3,600.5) scale(.87,1)">56</text>
<text class="h" transform="translate(1045.2,600.5) scale(.8,1)">13.5</text>
<rect x="76.90" y="591.13" width="29.72" height="12.4" rx="1" fill="#808284"/><rect x="107.77" y="591.13" width="29.72" height="12.4" rx="1" fill="#808284"/><rect x="138.65" y="591.13" width="29.72" height="12.4" rx="1" fill="#808284"/><rect x="169.52" y="591.13" width="29.72" height="12.4" rx="1" fill="#808284"/><rect x="200.39" y="591.13" width="29.72" height="12.4" rx="1" fill="#808284"/><rect x="231.27" y="591.13" width="29.72" height="12.4" rx="1" fill="#808284"/><rect x="262.14" y="591.13" width="29.72" height="12.4" rx="1" fill="#808284"/><rect x="293.01" y="591.13" width="29.72" height="12.4" rx="1" fill="#0a85c9"/><rect x="323.88" y="591.13" width="29.72" height="12.4" rx="1" fill="#0a85c9"/><rect x="354.76" y="591.13" width="29.72" height="12.4" rx="1" fill="#0a85c9"/><rect x="385.63" y="591.13" width="29.72" height="12.4" rx="1" fill="#0a85c9"/><rect x="416.50" y="591.13" width="29.72" height="12.4" rx="1" fill="#0a85c9"/><rect x="447.38" y="591.13" width="29.72" height="12.4" rx="1" fill="#0a85c9"/><rect x="478.25" y="591.13" width="29.72" height="12.4" rx="1" fill="#0a85c9"/><rect x="509.12" y="591.13" width="29.72" height="12.4" rx="1" fill="#0a85c9"/><rect x="540.00" y="591.13" width="29.72" height="12.4" rx="1" fill="#0a85c9"/><rect x="570.87" y="591.13" width="29.72" height="12.4" rx="1" fill="#0a85c9"/><rect x="601.74" y="591.13" width="29.72" height="12.4" rx="1" fill="#62ba46"/><rect x="632.61" y="591.13" width="29.72" height="12.4" rx="1" fill="#62ba46"/><rect x="663.49" y="591.13" width="29.72" height="12.4" rx="1" fill="#62ba46"/><rect x="694.36" y="591.13" width="29.72" height="12.4" rx="1" fill="#62ba46"/><rect x="725.23" y="591.13" width="29.72" height="12.4" rx="1" fill="#62ba46"/><rect x="756.11" y="591.13" width="29.72" height="12.4" rx="1" fill="#62ba46"/><rect x="786.98" y="591.13" width="29.72" height="12.4" rx="1" fill="#e8a812"/><rect x="817.85" y="591.13" width="29.72" height="12.4" rx="1" fill="#e8a812"/><rect x="848.73" y="591.13" width="29.72" height="12.4" rx="1" fill="#e8a812"/><rect x="879.60" y="591.13" width="29.72" height="12.4" rx="1" fill="#e8a812"/><rect x="910.47" y="591.13" width="29.72" height="12.4" rx="1" fill="#e8a812"/><rect x="941.34" y="591.13" width="29.72" height="12.4" rx="1" fill="#e8a812"/><rect x="972.22" y="591.13" width="29.72" height="12.4" rx="1" fill="#e8a812"/><rect x="1003.09" y="591.13" width="29.72" height="12.4" rx="1" fill="#e8a812"/>
<text class="c" transform="translate(91.8,600.0) scale(.86,1)">1.02</text><text class="c" transform="translate(122.6,600.0) scale(.86,1)">1.09</text><text class="c" transform="translate(153.5,600.0) scale(.86,1)">1.16</text><text class="c" transform="translate(184.4,600.0) scale(.86,1)">1.23</text><text class="c" transform="translate(215.3,600.0) scale(.86,1)">1.30</text><text class="c" transform="translate(246.1,600.0) scale(.86,1)">1.37</text><text class="c" transform="translate(277.0,600.0) scale(.86,1)">1.44</text><text class="c" transform="translate(307.9,600.0) scale(.86,1)">1.51</text><text class="c" transform="translate(338.7,600.0) scale(.86,1)">1.58</text><text class="c" transform="translate(369.6,600.0) scale(.86,1)">1.65</text><text class="c" transform="translate(400.5,600.0) scale(.86,1)">1.72</text><text class="c" transform="translate(431.4,600.0) scale(.86,1)">1.79</text><text class="c" transform="translate(462.2,600.0) scale(.86,1)">1.86</text><text class="c" transform="translate(493.1,600.0) scale(.86,1)">1.93</text><text class="c" transform="translate(524.0,600.0) scale(.86,1)">2.00</text><text class="c" transform="translate(554.9,600.0) scale(.86,1)">2.07</text><text class="c" transform="translate(585.7,600.0) scale(.86,1)">2.14</text><text class="c" transform="translate(616.6,600.0) scale(.86,1)">2.21</text><text class="c" transform="translate(647.5,600.0) scale(.86,1)">2.28</text><text class="c" transform="translate(678.3,600.0) scale(.86,1)">2.35</text><text class="c" transform="translate(709.2,600.0) scale(.86,1)">2.42</text><text class="c" transform="translate(740.1,600.0) scale(.86,1)">2.49</text><text class="c" transform="translate(771.0,600.0) scale(.86,1)">2.56</text><text class="c" transform="translate(801.8,600.0) scale(.86,1)">2.63</text><text class="c" transform="translate(832.7,600.0) scale(.86,1)">2.70</text><text class="c" transform="translate(863.6,600.0) scale(.86,1)">2.77</text><text class="c" transform="translate(894.5,600.0) scale(.86,1)">2.84</text><text class="c" transform="translate(925.3,600.0) scale(.86,1)">2.91</text><text class="c" transform="translate(956.2,600.0) scale(.86,1)">2.98</text><text class="c" transform="translate(987.1,600.0) scale(.86,1)">3.05</text><text class="c" transform="translate(1018.0,600.0) scale(.86,1)">3.12</text>
<text class="h" transform="translate(63.3,614.5) scale(.87,1)">57</text>
<text class="h" transform="translate(1045.2,614.5) scale(.8,1)">14.0</text>
<rect x="76.90" y="605.08" width="29.72" height="12.4" rx="1" fill="#808284"/><rect x="107.77" y="605.08" width="29.72" height="12.4" rx="1" fill="#808284"/><rect x="138.65" y="605.08" width="29.72" height="12.4" rx="1" fill="#808284"/><rect x="169.52" y="605.08" width="29.72" height="12.4" rx="1" fill="#808284"/><rect x="200.39" y="605.08" width="29.72" height="12.4" rx="1" fill="#808284"/><rect x="231.27" y="605.08" width="29.72" height="12.4" rx="1" fill="#808284"/><rect x="262.14" y="605.08" width="29.72" height="12.4" rx="1" fill="#808284"/><rect x="293.01" y="605.08" width="29.72" height="12.4" rx="1" fill="#808284"/><rect x="323.88" y="605.08" width="29.72" height="12.4" rx="1" fill="#0a85c9"/><rect x="354.76" y="605.08" width="29.72" height="12.4" rx="1" fill="#0a85c9"/><rect x="385.63" y="605.08" width="29.72" height="12.4" rx="1" fill="#0a85c9"/><rect x="416.50" y="605.08" width="29.72" height="12.4" rx="1" fill="#0a85c9"/><rect x="447.38" y="605.08" width="29.72" height="12.4" rx="1" fill="#0a85c9"/><rect x="478.25" y="605.08" width="29.72" height="12.4" rx="1" fill="#0a85c9"/><rect x="509.12" y="605.08" width="29.72" height="12.4" rx="1" fill="#0a85c9"/><rect x="540.00" y="605.08" width="29.72" height="12.4" rx="1" fill="#0a85c9"/><rect x="570.87" y="605.08" width="29.72" height="12.4" rx="1" fill="#0a85c9"/><rect x="601.74" y="605.08" width="29.72" height="12.4" rx="1" fill="#62ba46"/><rect x="632.61" y="605.08" width="29.72" height="12.4" rx="1" fill="#62ba46"/><rect x="663.49" y="605.08" width="29.72" height="12.4" rx="1" fill="#62ba46"/><rect x="694.36" y="605.08" width="29.72" height="12.4" rx="1" fill="#62ba46"/><rect x="725.23" y="605.08" width="29.72" height="12.4" rx="1" fill="#62ba46"/><rect x="756.11" y="605.08" width="29.72" height="12.4" rx="1" fill="#62ba46"/><rect x="786.98" y="605.08" width="29.72" height="12.4" rx="1" fill="#62ba46"/><rect x="817.85" y="605.08" width="29.72" height="12.4" rx="1" fill="#e8a812"/><rect x="848.73" y="605.08" width="29.72" height="12.4" rx="1" fill="#e8a812"/><rect x="879.60" y="605.08" width="29.72" height="12.4" rx="1" fill="#e8a812"/><rect x="910.47" y="605.08" width="29.72" height="12.4" rx="1" fill="#e8a812"/><rect x="941.34" y="605.08" width="29.72" height="12.4" rx="1" fill="#e8a812"/><rect x="972.22" y="605.08" width="29.72" height="12.4" rx="1" fill="#e8a812"/><rect x="1003.09" y="605.08" width="29.72" height="12.4" rx="1" fill="#e8a812"/>
<text class="c" transform="translate(91.8,614.0) scale(.86,1)">1.01</text><text class="c" transform="translate(122.6,614.0) scale(.86,1)">1.07</text><text class="c" transform="translate(153.5,614.0) scale(.86,1)">1.14</text><text class="c" transform="translate(184.4,614.0) scale(.86,1)">1.21</text><text class="c" transform="translate(215.3,614.0) scale(.86,1)">1.28</text><text class="c" transform="translate(246.1,614.0) scale(.86,1)">1.35</text><text class="c" transform="translate(277.0,614.0) scale(.86,1)">1.42</text><text class="c" transform="translate(307.9,614.0) scale(.86,1)">1.49</text><text class="c" transform="translate(338.7,614.0) scale(.86,1)">1.56</text><text class="c" transform="translate(369.6,614.0) scale(.86,1)">1.62</text><text class="c" transform="translate(400.5,614.0) scale(.86,1)">1.69</text><text class="c" transform="translate(431.4,614.0) scale(.86,1)">1.76</text><text class="c" transform="translate(462.2,614.0) scale(.86,1)">1.83</text><text class="c" transform="translate(493.1,614.0) scale(.86,1)">1.90</text><text class="c" transform="translate(524.0,614.0) scale(.86,1)">1.97</text><text class="c" transform="translate(554.9,614.0) scale(.86,1)">2.04</text><text class="c" transform="translate(585.7,614.0) scale(.86,1)">2.10</text><text class="c" transform="translate(616.6,614.0) scale(.86,1)">2.17</text><text class="c" transform="translate(647.5,614.0) scale(.86,1)">2.24</text><text class="c" transform="translate(678.3,614.0) scale(.86,1)">2.31</text><text class="c" transform="translate(709.2,614.0) scale(.86,1)">2.38</text><text class="c" transform="translate(740.1,614.0) scale(.86,1)">2.45</text><text class="c" transform="translate(771.0,614.0) scale(.86,1)">2.52</text><text class="c" transform="translate(801.8,614.0) scale(.86,1)">2.59</text><text class="c" transform="translate(832.7,614.0) scale(.86,1)">2.65</text><text class="c" transform="translate(863.6,614.0) scale(.86,1)">2.72</text><text class="c" transform="translate(894.5,614.0) scale(.86,1)">2.79</text><text class="c" transform="translate(925.3,614.0) scale(.86,1)">2.86</text><text class="c" transform="translate(956.2,614.0) scale(.86,1)">2.93</text><text class="c" transform="translate(987.1,614.0) scale(.86,1)">3.00</text><text class="c" transform="translate(1018.0,614.0) scale(.86,1)">3.07</text>
<text class="h" transform="translate(63.3,628.4) scale(.87,1)">58</text>
<text class="h" transform="translate(1045.2,628.4) scale(.8,1)">14.5</text>
<rect x="76.90" y="619.02" width="29.72" height="12.4" rx="1" fill="#808284"/><rect x="107.77" y="619.02" width="29.72" height="12.4" rx="1" fill="#808284"/><rect x="138.65" y="619.02" width="29.72" height="12.4" rx="1" fill="#808284"/><rect x="169.52" y="619.02" width="29.72" height="12.4" rx="1" fill="#808284"/><rect x="200.39" y="619.02" width="29.72" height="12.4" rx="1" fill="#808284"/><rect x="231.27" y="619.02" width="29.72" height="12.4" rx="1" fill="#808284"/><rect x="262.14" y="619.02" width="29.72" height="12.4" rx="1" fill="#808284"/><rect x="293.01" y="619.02" width="29.72" height="12.4" rx="1" fill="#808284"/><rect x="323.88" y="619.02" width="29.72" height="12.4" rx="1" fill="#0a85c9"/><rect x="354.76" y="619.02" width="29.72" height="12.4" rx="1" fill="#0a85c9"/><rect x="385.63" y="619.02" width="29.72" height="12.4" rx="1" fill="#0a85c9"/><rect x="416.50" y="619.02" width="29.72" height="12.4" rx="1" fill="#0a85c9"/><rect x="447.38" y="619.02" width="29.72" height="12.4" rx="1" fill="#0a85c9"/><rect x="478.25" y="619.02" width="29.72" height="12.4" rx="1" fill="#0a85c9"/><rect x="509.12" y="619.02" width="29.72" height="12.4" rx="1" fill="#0a85c9"/><rect x="540.00" y="619.02" width="29.72" height="12.4" rx="1" fill="#0a85c9"/><rect x="570.87" y="619.02" width="29.72" height="12.4" rx="1" fill="#0a85c9"/><rect x="601.74" y="619.02" width="29.72" height="12.4" rx="1" fill="#0a85c9"/><rect x="632.61" y="619.02" width="29.72" height="12.4" rx="1" fill="#62ba46"/><rect x="663.49" y="619.02" width="29.72" height="12.4" rx="1" fill="#62ba46"/><rect x="694.36" y="619.02" width="29.72" height="12.4" rx="1" fill="#62ba46"/><rect x="725.23" y="619.02" width="29.72" height="12.4" rx="1" fill="#62ba46"/><rect x="756.11" y="619.02" width="29.72" height="12.4" rx="1" fill="#62ba46"/><rect x="786.98" y="619.02" width="29.72" height="12.4" rx="1" fill="#62ba46"/><rect x="817.85" y="619.02" width="29.72" height="12.4" rx="1" fill="#e8a812"/><rect x="848.73" y="619.02" width="29.72" height="12.4" rx="1" fill="#e8a812"/><rect x="879.60" y="619.02" width="29.72" height="12.4" rx="1" fill="#e8a812"/><rect x="910.47" y="619.02" width="29.72" height="12.4" rx="1" fill="#e8a812"/><rect x="941.34" y="619.02" width="29.72" height="12.4" rx="1" fill="#e8a812"/><rect x="972.22" y="619.02" width="29.72" height="12.4" rx="1" fill="#e8a812"/><rect x="1003.09" y="619.02" width="29.72" height="12.4" rx="1" fill="#e8a812"/>
<text class="c" transform="translate(91.8,627.9) scale(.86,1)">0.99</text><text class="c" transform="translate(122.6,627.9) scale(.86,1)">1.06</text><text class="c" transform="translate(153.5,627.9) scale(.86,1)">1.12</text><text class="c" transform="translate(184.4,627.9) scale(.86,1)">1.19</text><text class="c" transform="translate(215.3,627.9) scale(.86,1)">1.26</text><text class="c" transform="translate(246.1,627.9) scale(.86,1)">1.33</text><text class="c" transform="translate(277.0,627.9) scale(.86,1)">1.39</text><text class="c" transform="translate(307.9,627.9) scale(.86,1)">1.46</text><text class="c" transform="translate(338.7,627.9) scale(.86,1)">1.53</text><text class="c" transform="translate(369.6,627.9) scale(.86,1)">1.60</text><text class="c" transform="translate(400.5,627.9) scale(.86,1)">1.66</text><text class="c" transform="translate(431.4,627.9) scale(.86,1)">1.73</text><text class="c" transform="translate(462.2,627.9) scale(.86,1)">1.80</text><text class="c" transform="translate(493.1,627.9) scale(.86,1)">1.87</text><text class="c" transform="translate(524.0,627.9) scale(.86,1)">1.93</text><text class="c" transform="translate(554.9,627.9) scale(.86,1)">2.00</text><text class="c" transform="translate(585.7,627.9) scale(.86,1)">2.07</text><text class="c" transform="translate(616.6,627.9) scale(.86,1)">2.14</text><text class="c" transform="translate(647.5,627.9) scale(.86,1)">2.20</text><text class="c" transform="translate(678.3,627.9) scale(.86,1)">2.27</text><text class="c" transform="translate(709.2,627.9) scale(.86,1)">2.34</text><text class="c" transform="translate(740.1,627.9) scale(.86,1)">2.41</text><text class="c" transform="translate(771.0,627.9) scale(.86,1)">2.47</text><text class="c" transform="translate(801.8,627.9) scale(.86,1)">2.54</text><text class="c" transform="translate(832.7,627.9) scale(.86,1)">2.61</text><text class="c" transform="translate(863.6,627.9) scale(.86,1)">2.68</text><text class="c" transform="translate(894.5,627.9) scale(.86,1)">2.74</text><text class="c" transform="translate(925.3,627.9) scale(.86,1)">2.81</text><text class="c" transform="translate(956.2,627.9) scale(.86,1)">2.88</text><text class="c" transform="translate(987.1,627.9) scale(.86,1)">2.95</text><text class="c" transform="translate(1018.0,627.9) scale(.86,1)">3.01</text>
<text class="h" transform="translate(63.3,642.4) scale(.87,1)">59</text>
<text class="h" transform="translate(1045.2,642.4) scale(.8,1)">15.0</text>
<rect x="76.90" y="632.96" width="29.72" height="12.4" rx="1" fill="#808284"/><rect x="107.77" y="632.96" width="29.72" height="12.4" rx="1" fill="#808284"/><rect x="138.65" y="632.96" width="29.72" height="12.4" rx="1" fill="#808284"/><rect x="169.52" y="632.96" width="29.72" height="12.4" rx="1" fill="#808284"/><rect x="200.39" y="632.96" width="29.72" height="12.4" rx="1" fill="#808284"/><rect x="231.27" y="632.96" width="29.72" height="12.4" rx="1" fill="#808284"/><rect x="262.14" y="632.96" width="29.72" height="12.4" rx="1" fill="#808284"/><rect x="293.01" y="632.96" width="29.72" height="12.4" rx="1" fill="#808284"/><rect x="323.88" y="632.96" width="29.72" height="12.4" rx="1" fill="#0a85c9"/><rect x="354.76" y="632.96" width="29.72" height="12.4" rx="1" fill="#0a85c9"/><rect x="385.63" y="632.96" width="29.72" height="12.4" rx="1" fill="#0a85c9"/><rect x="416.50" y="632.96" width="29.72" height="12.4" rx="1" fill="#0a85c9"/><rect x="447.38" y="632.96" width="29.72" height="12.4" rx="1" fill="#0a85c9"/><rect x="478.25" y="632.96" width="29.72" height="12.4" rx="1" fill="#0a85c9"/><rect x="509.12" y="632.96" width="29.72" height="12.4" rx="1" fill="#0a85c9"/><rect x="540.00" y="632.96" width="29.72" height="12.4" rx="1" fill="#0a85c9"/><rect x="570.87" y="632.96" width="29.72" height="12.4" rx="1" fill="#0a85c9"/><rect x="601.74" y="632.96" width="29.72" height="12.4" rx="1" fill="#0a85c9"/><rect x="632.61" y="632.96" width="29.72" height="12.4" rx="1" fill="#62ba46"/><rect x="663.49" y="632.96" width="29.72" height="12.4" rx="1" fill="#62ba46"/><rect x="694.36" y="632.96" width="29.72" height="12.4" rx="1" fill="#62ba46"/><rect x="725.23" y="632.96" width="29.72" height="12.4" rx="1" fill="#62ba46"/><rect x="756.11" y="632.96" width="29.72" height="12.4" rx="1" fill="#62ba46"/><rect x="786.98" y="632.96" width="29.72" height="12.4" rx="1" fill="#62ba46"/><rect x="817.85" y="632.96" width="29.72" height="12.4" rx="1" fill="#62ba46"/><rect x="848.73" y="632.96" width="29.72" height="12.4" rx="1" fill="#e8a812"/><rect x="879.60" y="632.96" width="29.72" height="12.4" rx="1" fill="#e8a812"/><rect x="910.47" y="632.96" width="29.72" height="12.4" rx="1" fill="#e8a812"/><rect x="941.34" y="632.96" width="29.72" height="12.4" rx="1" fill="#e8a812"/><rect x="972.22" y="632.96" width="29.72" height="12.4" rx="1" fill="#e8a812"/><rect x="1003.09" y="632.96" width="29.72" height="12.4" rx="1" fill="#e8a812"/>
<text class="c" transform="translate(91.8,641.9) scale(.86,1)">0.97</text><text class="c" transform="translate(122.6,641.9) scale(.86,1)">1.04</text><text class="c" transform="translate(153.5,641.9) scale(.86,1)">1.10</text><text class="c" transform="translate(184.4,641.9) scale(.86,1)">1.17</text><text class="c" transform="translate(215.3,641.9) scale(.86,1)">1.24</text><text class="c" transform="translate(246.1,641.9) scale(.86,1)">1.30</text><text class="c" transform="translate(277.0,641.9) scale(.86,1)">1.37</text><text class="c" transform="translate(307.9,641.9) scale(.86,1)">1.44</text><text class="c" transform="translate(338.7,641.9) scale(.86,1)">1.50</text><text class="c" transform="translate(369.6,641.9) scale(.86,1)">1.57</text><text class="c" transform="translate(400.5,641.9) scale(.86,1)">1.64</text><text class="c" transform="translate(431.4,641.9) scale(.86,1)">1.70</text><text class="c" transform="translate(462.2,641.9) scale(.86,1)">1.77</text><text class="c" transform="translate(493.1,641.9) scale(.86,1)">1.84</text><text class="c" transform="translate(524.0,641.9) scale(.86,1)">1.90</text><text class="c" transform="translate(554.9,641.9) scale(.86,1)">1.97</text><text class="c" transform="translate(585.7,641.9) scale(.86,1)">2.03</text><text class="c" transform="translate(616.6,641.9) scale(.86,1)">2.10</text><text class="c" transform="translate(647.5,641.9) scale(.86,1)">2.17</text><text class="c" transform="translate(678.3,641.9) scale(.86,1)">2.23</text><text class="c" transform="translate(709.2,641.9) scale(.86,1)">2.30</text><text class="c" transform="translate(740.1,641.9) scale(.86,1)">2.37</text><text class="c" transform="translate(771.0,641.9) scale(.86,1)">2.43</text><text class="c" transform="translate(801.8,641.9) scale(.86,1)">2.50</text><text class="c" transform="translate(832.7,641.9) scale(.86,1)">2.57</text><text class="c" transform="translate(863.6,641.9) scale(.86,1)">2.63</text><text class="c" transform="translate(894.5,641.9) scale(.86,1)">2.70</text><text class="c" transform="translate(925.3,641.9) scale(.86,1)">2.76</text><text class="c" transform="translate(956.2,641.9) scale(.86,1)">2.83</text><text class="c" transform="translate(987.1,641.9) scale(.86,1)">2.90</text><text class="c" transform="translate(1018.0,641.9) scale(.86,1)">2.96</text>
<text class="h" transform="translate(63.3,656.3) scale(.87,1)">60</text>
<text class="h" transform="translate(1045.2,656.3) scale(.8,1)">15.5</text>
<rect x="76.90" y="646.90" width="29.72" height="12.4" rx="1" fill="#808284"/><rect x="107.77" y="646.90" width="29.72" height="12.4" rx="1" fill="#808284"/><rect x="138.65" y="646.90" width="29.72" height="12.4" rx="1" fill="#808284"/><rect x="169.52" y="646.90" width="29.72" height="12.4" rx="1" fill="#808284"/><rect x="200.39" y="646.90" width="29.72" height="12.4" rx="1" fill="#808284"/><rect x="231.27" y="646.90" width="29.72" height="12.4" rx="1" fill="#808284"/><rect x="262.14" y="646.90" width="29.72" height="12.4" rx="1" fill="#808284"/><rect x="293.01" y="646.90" width="29.72" height="12.4" rx="1" fill="#808284"/><rect x="323.88" y="646.90" width="29.72" height="12.4" rx="1" fill="#808284"/><rect x="354.76" y="646.90" width="29.72" height="12.4" rx="1" fill="#0a85c9"/><rect x="385.63" y="646.90" width="29.72" height="12.4" rx="1" fill="#0a85c9"/><rect x="416.50" y="646.90" width="29.72" height="12.4" rx="1" fill="#0a85c9"/><rect x="447.38" y="646.90" width="29.72" height="12.4" rx="1" fill="#0a85c9"/><rect x="478.25" y="646.90" width="29.72" height="12.4" rx="1" fill="#0a85c9"/><rect x="509.12" y="646.90" width="29.72" height="12.4" rx="1" fill="#0a85c9"/><rect x="540.00" y="646.90" width="29.72" height="12.4" rx="1" fill="#0a85c9"/><rect x="570.87" y="646.90" width="29.72" height="12.4" rx="1" fill="#0a85c9"/><rect x="601.74" y="646.90" width="29.72" height="12.4" rx="1" fill="#0a85c9"/><rect x="632.61" y="646.90" width="29.72" height="12.4" rx="1" fill="#0a85c9"/><rect x="663.49" y="646.90" width="29.72" height="12.4" rx="1" fill="#62ba46"/><rect x="694.36" y="646.90" width="29.72" height="12.4" rx="1" fill="#62ba46"/><rect x="725.23" y="646.90" width="29.72" height="12.4" rx="1" fill="#62ba46"/><rect x="756.11" y="646.90" width="29.72" height="12.4" rx="1" fill="#62ba46"/><rect x="786.98" y="646.90" width="29.72" height="12.4" rx="1" fill="#62ba46"/><rect x="817.85" y="646.90" width="29.72" height="12.4" rx="1" fill="#62ba46"/><rect x="848.73" y="646.90" width="29.72" height="12.4" rx="1" fill="#62ba46"/><rect x="879.60" y="646.90" width="29.72" height="12.4" rx="1" fill="#e8a812"/><rect x="910.47" y="646.90" width="29.72" height="12.4" rx="1" fill="#e8a812"/><rect x="941.34" y="646.90" width="29.72" height="12.4" rx="1" fill="#e8a812"/><rect x="972.22" y="646.90" width="29.72" height="12.4" rx="1" fill="#e8a812"/><rect x="1003.09" y="646.90" width="29.72" height="12.4" rx="1" fill="#e8a812"/>
<text class="c" transform="translate(91.8,655.8) scale(.86,1)">0.96</text><text class="c" transform="translate(122.6,655.8) scale(.86,1)">1.02</text><text class="c" transform="translate(153.5,655.8) scale(.86,1)">1.09</text><text class="c" transform="translate(184.4,655.8) scale(.86,1)">1.15</text><text class="c" transform="translate(215.3,655.8) scale(.86,1)">1.22</text><text class="c" transform="translate(246.1,655.8) scale(.86,1)">1.28</text><text class="c" transform="translate(277.0,655.8) scale(.86,1)">1.35</text><text class="c" transform="translate(307.9,655.8) scale(.86,1)">1.41</text><text class="c" transform="translate(338.7,655.8) scale(.86,1)">1.48</text><text class="c" transform="translate(369.6,655.8) scale(.86,1)">1.54</text><text class="c" transform="translate(400.5,655.8) scale(.86,1)">1.61</text><text class="c" transform="translate(431.4,655.8) scale(.86,1)">1.67</text><text class="c" transform="translate(462.2,655.8) scale(.86,1)">1.74</text><text class="c" transform="translate(493.1,655.8) scale(.86,1)">1.80</text><text class="c" transform="translate(524.0,655.8) scale(.86,1)">1.87</text><text class="c" transform="translate(554.9,655.8) scale(.86,1)">1.94</text><text class="c" transform="translate(585.7,655.8) scale(.86,1)">2.00</text><text class="c" transform="translate(616.6,655.8) scale(.86,1)">2.07</text><text class="c" transform="translate(647.5,655.8) scale(.86,1)">2.13</text><text class="c" transform="translate(678.3,655.8) scale(.86,1)">2.20</text><text class="c" transform="translate(709.2,655.8) scale(.86,1)">2.26</text><text class="c" transform="translate(740.1,655.8) scale(.86,1)">2.33</text><text class="c" transform="translate(771.0,655.8) scale(.86,1)">2.39</text><text class="c" transform="translate(801.8,655.8) scale(.86,1)">2.46</text><text class="c" transform="translate(832.7,655.8) scale(.86,1)">2.52</text><text class="c" transform="translate(863.6,655.8) scale(.86,1)">2.59</text><text class="c" transform="translate(894.5,655.8) scale(.86,1)">2.65</text><text class="c" transform="translate(925.3,655.8) scale(.86,1)">2.72</text><text class="c" transform="translate(956.2,655.8) scale(.86,1)">2.78</text><text class="c" transform="translate(987.1,655.8) scale(.86,1)">2.85</text><text class="c" transform="translate(1018.0,655.8) scale(.86,1)">2.91</text>
<rect x="1109" y="0" width="1" height="857" fill="#fff" fill-opacity=".26"/>
</svg></body></html>
